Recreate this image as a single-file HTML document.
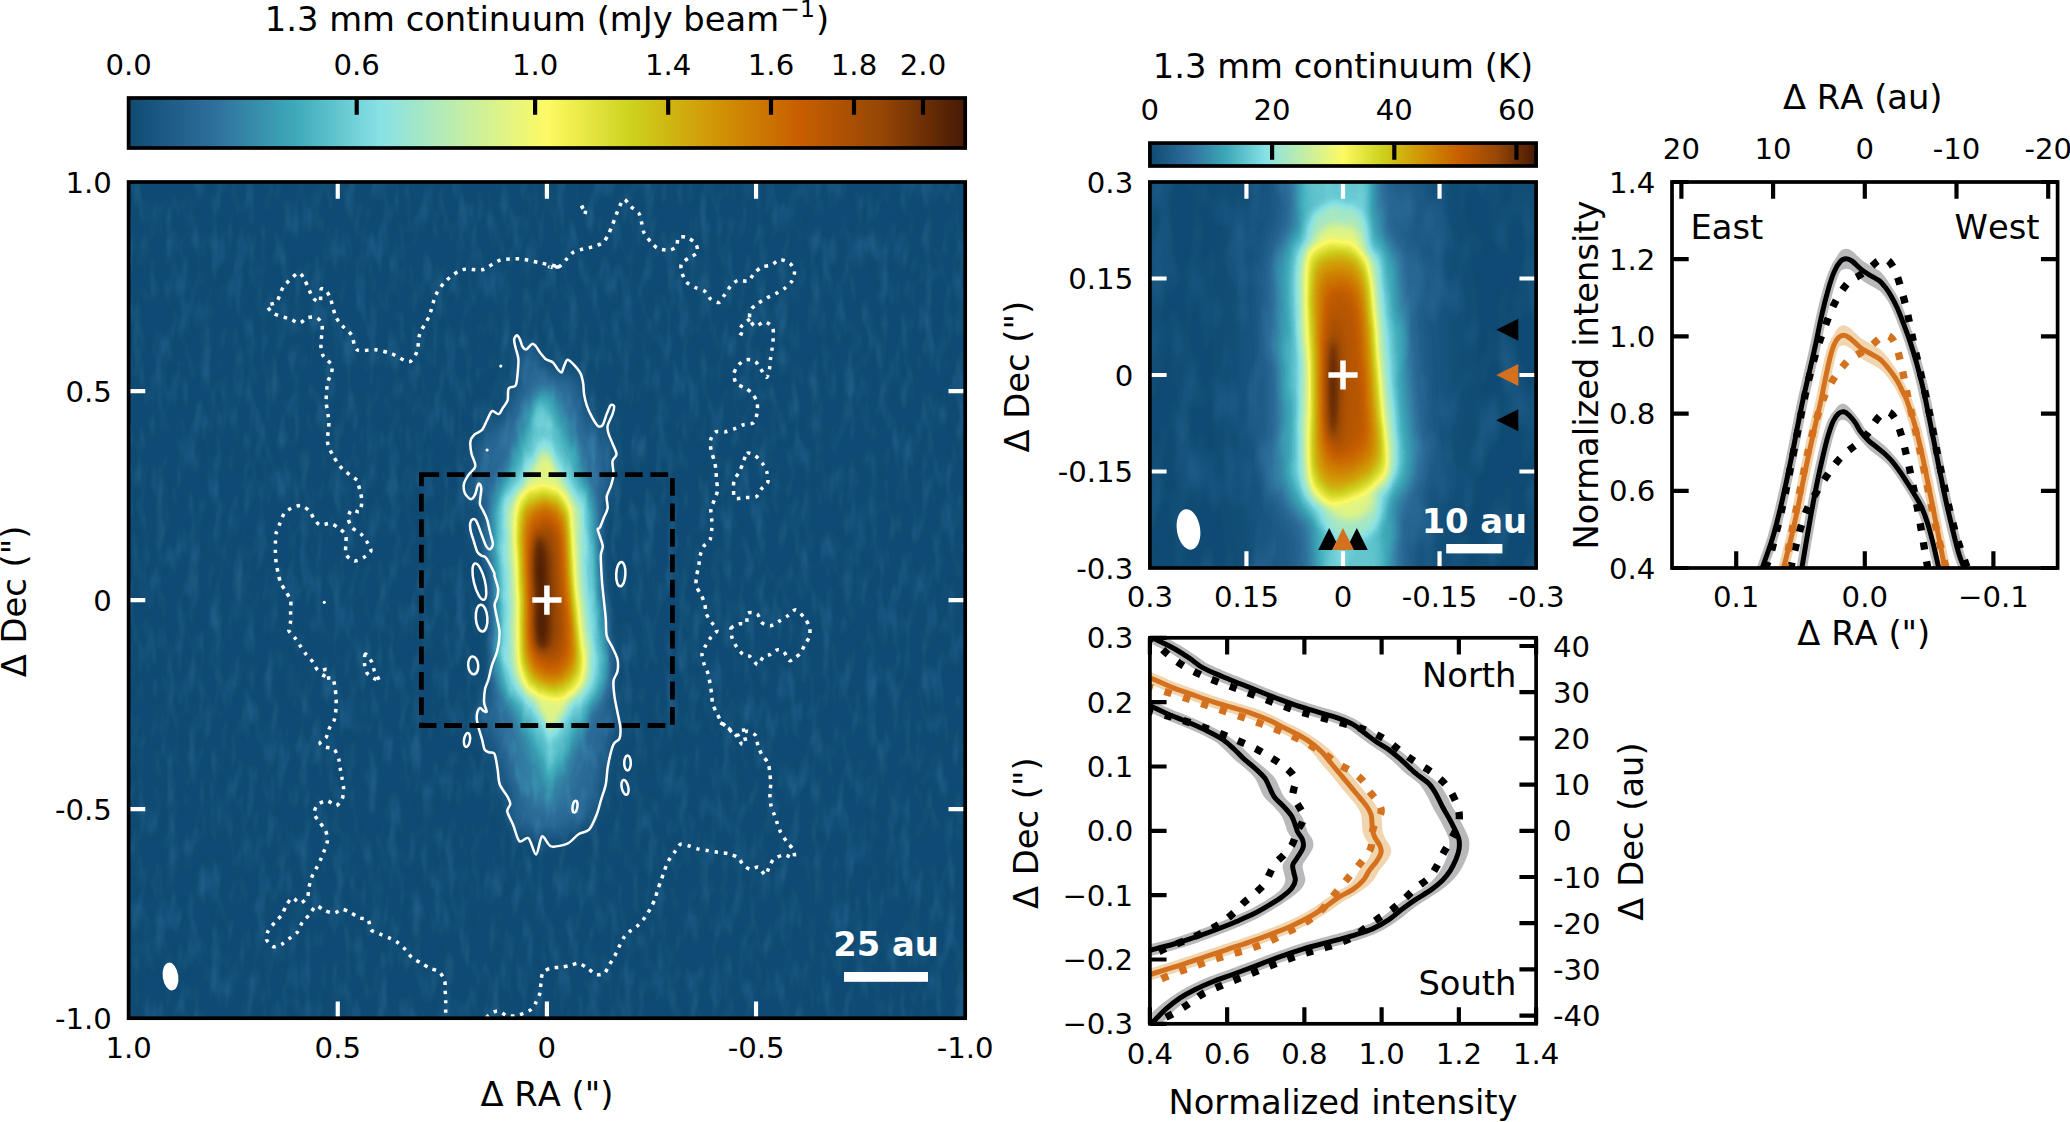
<!DOCTYPE html>
<html lang="en"><head><meta charset="utf-8"><title>1.3 mm continuum figure</title>
<style>html,body{margin:0;padding:0;background:#fff;}svg{display:block;}text{font-family:'DejaVu Sans','Liberation Sans',sans-serif;fill:#000;font-kerning:none;}</style>
</head><body>
<svg width="2070" height="1122" viewBox="0 0 2070 1122">
<defs>
<linearGradient id="cmg" x1="0" y1="0" x2="1" y2="0"><stop offset="0.0%" stop-color="#0f4b73"/><stop offset="10.0%" stop-color="#2e6e9b"/><stop offset="20.0%" stop-color="#3eaab9"/><stop offset="30.0%" stop-color="#87e1e6"/><stop offset="40.0%" stop-color="#c3eea5"/><stop offset="50.0%" stop-color="#fdfa64"/><stop offset="60.0%" stop-color="#cdd21e"/><stop offset="70.0%" stop-color="#d29605"/><stop offset="80.0%" stop-color="#c85f00"/><stop offset="90.0%" stop-color="#964605"/><stop offset="100.0%" stop-color="#461905"/></linearGradient>
<filter id="cmL" filterUnits="userSpaceOnUse" x="128.6" y="182.0" width="836.6" height="836.2" color-interpolation-filters="sRGB">
<feTurbulence type="fractalNoise" baseFrequency="0.09 0.03" numOctaves="2" seed="4" result="n"/>
<feColorMatrix in="n" type="matrix" values="0.12 0 0 0 -0.057  0.12 0 0 0 -0.057  0.12 0 0 0 -0.057  0 0 0 0 1" result="ng"/>
<feComposite in="SourceGraphic" in2="ng" operator="arithmetic" k1="-1" k2="1" k3="1" k4="0" result="s"/>
<feComponentTransfer in="s"><feFuncR type="table" tableValues="0.0588 0.1804 0.2431 0.5294 0.7647 0.9922 0.8039 0.8235 0.7843 0.5882 0.2745"/><feFuncG type="table" tableValues="0.2941 0.4314 0.6667 0.8824 0.9333 0.9804 0.8235 0.5882 0.3725 0.2745 0.0980"/><feFuncB type="table" tableValues="0.4510 0.6078 0.7255 0.9020 0.6471 0.3922 0.1176 0.0196 0.0000 0.0196 0.0196"/><feFuncA type="linear" slope="0" intercept="1"/></feComponentTransfer>
</filter>
<filter id="cmM" filterUnits="userSpaceOnUse" x="1149.9" y="182.0" width="386.2" height="386.0" color-interpolation-filters="sRGB">
<feTurbulence type="fractalNoise" baseFrequency="0.04 0.016" numOctaves="2" seed="9" result="n"/>
<feColorMatrix in="n" type="matrix" values="0.13 0 0 0 -0.06  0.13 0 0 0 -0.06  0.13 0 0 0 -0.06  0 0 0 0 1" result="ng"/>
<feComposite in="SourceGraphic" in2="ng" operator="arithmetic" k1="-1" k2="1" k3="1" k4="0" result="s"/>
<feComponentTransfer in="s"><feFuncR type="table" tableValues="0.0588 0.1804 0.2431 0.5294 0.7647 0.9922 0.8039 0.8235 0.7843 0.5882 0.2745"/><feFuncG type="table" tableValues="0.2941 0.4314 0.6667 0.8824 0.9333 0.9804 0.8235 0.5882 0.3725 0.2745 0.0980"/><feFuncB type="table" tableValues="0.4510 0.6078 0.7255 0.9020 0.6471 0.3922 0.1176 0.0196 0.0000 0.0196 0.0196"/><feFuncA type="linear" slope="0" intercept="1"/></feComponentTransfer>
</filter>
<filter id="b2_5x3_5" x="-150%" y="-150%" width="400%" height="400%" color-interpolation-filters="sRGB"><feGaussianBlur stdDeviation="2.5 3.5"/></filter><filter id="b2_5x4" x="-150%" y="-150%" width="400%" height="400%" color-interpolation-filters="sRGB"><feGaussianBlur stdDeviation="2.5 4"/></filter><filter id="b2_5x5" x="-150%" y="-150%" width="400%" height="400%" color-interpolation-filters="sRGB"><feGaussianBlur stdDeviation="2.5 5"/></filter><filter id="b3x6" x="-150%" y="-150%" width="400%" height="400%" color-interpolation-filters="sRGB"><feGaussianBlur stdDeviation="3 6"/></filter><filter id="b4x8" x="-150%" y="-150%" width="400%" height="400%" color-interpolation-filters="sRGB"><feGaussianBlur stdDeviation="4 8"/></filter><filter id="b4x9" x="-150%" y="-150%" width="400%" height="400%" color-interpolation-filters="sRGB"><feGaussianBlur stdDeviation="4 9"/></filter><filter id="b5x10" x="-150%" y="-150%" width="400%" height="400%" color-interpolation-filters="sRGB"><feGaussianBlur stdDeviation="5 10"/></filter><filter id="b10" x="-150%" y="-150%" width="400%" height="400%" color-interpolation-filters="sRGB"><feGaussianBlur stdDeviation="10"/></filter><filter id="b22" x="-150%" y="-150%" width="400%" height="400%" color-interpolation-filters="sRGB"><feGaussianBlur stdDeviation="22"/></filter><filter id="b3_5" x="-150%" y="-150%" width="400%" height="400%" color-interpolation-filters="sRGB"><feGaussianBlur stdDeviation="3.5"/></filter><filter id="b4" x="-150%" y="-150%" width="400%" height="400%" color-interpolation-filters="sRGB"><feGaussianBlur stdDeviation="4"/></filter><filter id="b5" x="-150%" y="-150%" width="400%" height="400%" color-interpolation-filters="sRGB"><feGaussianBlur stdDeviation="5"/></filter><filter id="b7" x="-150%" y="-150%" width="400%" height="400%" color-interpolation-filters="sRGB"><feGaussianBlur stdDeviation="7"/></filter><filter id="b8" x="-150%" y="-150%" width="400%" height="400%" color-interpolation-filters="sRGB"><feGaussianBlur stdDeviation="8"/></filter>
<clipPath id="clipL"><rect x="128.6" y="182.0" width="836.6" height="836.2"/></clipPath>
<clipPath id="clipM"><rect x="1149.9" y="182.0" width="386.2" height="386.0"/></clipPath>
<clipPath id="clipR"><rect x="1672.0" y="182.0" width="385.6" height="386.0"/></clipPath>
<clipPath id="clipB"><rect x="1149.9" y="637.8" width="386.2" height="386.0"/></clipPath>
</defs>
<rect width="2070" height="1122" fill="#fff"/>
<g clip-path="url(#clipL)"><g filter="url(#cmL)">
<rect x="123.6" y="177.0" width="846.6" height="846.2" fill="#000"/>
<path d="M473.2 482.6 C471.5 485.5 469.6 488.3 469.2 491.2 C468.7 494.1 469.2 497.5 470.3 500.0 C471.5 502.5 474.4 505.9 476.1 506.3 C477.7 506.6 479.2 504.0 480.2 502.0 C481.2 500.0 481.4 496.1 482.0 494.3 C482.6 492.5 483.0 491.0 483.6 491.3 C484.3 491.6 485.6 493.9 485.9 496.2 C486.2 498.4 485.4 502.2 485.3 504.8 C485.2 507.5 484.6 509.5 485.2 511.9 C485.8 514.2 487.7 516.4 488.9 518.9 C490.1 521.4 491.3 523.3 492.5 526.8 C493.7 530.3 495.0 535.9 496.2 539.8 C497.3 543.7 499.0 547.7 499.2 550.2 C499.3 552.8 498.1 554.7 497.1 555.0 C496.0 555.4 494.4 554.2 493.1 552.3 C491.8 550.4 490.5 546.7 489.2 543.7 C487.9 540.7 486.5 537.0 485.3 534.2 C484.1 531.5 483.1 528.6 482.0 527.2 C481.0 525.8 479.9 525.4 479.0 525.8 C478.1 526.2 476.9 527.8 476.6 529.5 C476.3 531.3 476.6 533.5 477.3 536.4 C478.0 539.3 479.6 543.3 480.9 546.7 C482.1 550.1 483.4 554.5 484.8 556.8 C486.2 559.2 488.0 559.9 489.3 560.7 C490.7 561.6 491.6 560.9 492.9 562.1 C494.2 563.4 495.5 565.6 497.1 568.1 C498.7 570.6 501.4 575.1 502.4 577.1 C503.4 579.0 502.1 577.6 502.9 579.8 C503.6 582.0 506.4 587.4 506.9 590.4 C507.5 593.4 506.8 595.5 506.2 597.7 C505.6 599.9 503.6 600.7 503.5 603.6 C503.4 606.6 504.9 611.4 505.5 615.4 C506.0 619.5 507.1 623.0 506.8 627.9 C506.4 632.7 504.8 639.4 503.3 644.5 C501.8 649.6 499.2 653.7 497.5 658.4 C495.9 663.1 494.7 668.8 493.5 672.6 C492.2 676.5 490.9 677.6 490.1 681.3 C489.3 685.0 488.6 691.1 488.7 694.8 C488.8 698.5 491.0 702.1 490.9 703.5 C490.7 704.9 488.9 703.7 487.9 703.1 C486.8 702.6 485.8 700.0 484.8 700.3 C483.8 700.5 482.5 702.7 481.9 704.7 C481.4 706.7 481.1 709.5 481.3 712.4 C481.6 715.2 482.5 718.8 483.3 722.0 C484.0 725.2 485.1 728.4 485.9 731.6 C486.7 734.8 486.8 739.0 487.9 741.1 C488.9 743.1 490.6 743.2 492.2 744.0 C493.8 744.7 496.0 742.6 497.3 745.4 C498.6 748.1 499.3 755.4 500.0 760.4 C500.8 765.5 500.4 770.9 501.9 775.5 C503.4 780.0 507.4 784.3 509.0 787.6 C510.7 790.8 511.9 792.5 511.8 795.0 C511.8 797.5 508.4 799.1 508.9 802.6 C509.4 806.2 512.7 811.4 514.6 816.3 C516.5 821.2 517.9 830.1 520.4 832.3 C522.8 834.4 526.5 827.0 529.2 829.2 C531.8 831.4 534.3 845.8 536.4 845.5 C538.6 845.2 539.8 828.8 542.2 827.4 C544.7 826.1 546.9 836.2 551.0 837.4 C555.2 838.6 562.7 836.4 567.1 834.3 C571.5 832.3 573.9 827.5 577.3 825.3 C580.7 823.0 584.6 824.1 587.5 820.9 C590.3 817.6 592.8 810.8 594.6 805.7 C596.5 800.7 597.4 795.7 598.8 790.7 C600.2 785.7 602.1 781.1 603.0 775.6 C604.0 770.1 603.7 764.2 604.8 757.7 C605.9 751.2 607.8 741.1 609.5 736.6 C611.3 732.1 614.2 733.6 615.2 730.8 C616.3 728.1 616.3 724.5 615.9 720.2 C615.5 715.8 613.8 709.9 612.7 704.8 C611.6 699.6 610.2 694.4 609.4 689.3 C608.6 684.2 607.5 678.1 607.8 674.0 C608.1 669.9 610.7 668.2 611.2 664.8 C611.7 661.3 611.7 657.3 610.7 653.5 C609.7 649.8 607.2 646.0 605.3 642.2 C603.4 638.5 600.4 635.6 599.1 631.1 C597.7 626.6 597.9 620.8 597.2 615.3 C596.4 609.9 595.3 604.1 594.7 598.5 C594.1 592.9 593.4 588.1 593.3 581.9 C593.1 575.7 593.2 566.0 593.7 561.0 C594.2 556.0 596.3 555.8 596.1 551.8 C595.9 547.8 592.6 540.0 592.3 537.2 C592.1 534.3 593.3 536.9 594.3 534.9 C595.3 533.0 597.1 528.5 598.4 525.3 C599.8 522.1 601.9 519.1 602.5 515.6 C603.1 512.1 601.5 507.7 602.1 504.2 C602.7 500.7 604.9 498.1 606.1 494.5 C607.3 490.9 608.8 487.0 609.2 482.8 C609.6 478.6 608.0 472.7 608.6 469.3 C609.1 465.9 612.5 465.3 612.5 462.4 C612.6 459.5 610.1 455.1 608.9 451.8 C607.8 448.4 606.1 445.0 605.4 442.1 C604.7 439.2 603.9 437.6 604.6 434.4 C605.2 431.1 608.4 425.8 609.4 422.6 C610.5 419.3 611.4 416.2 611.1 414.8 C610.8 413.3 608.9 412.5 607.7 413.8 C606.5 415.1 605.2 419.4 603.9 422.6 C602.6 425.9 601.3 431.5 599.9 433.5 C598.5 435.4 596.9 435.8 595.2 434.5 C593.5 433.2 591.4 429.1 589.8 425.8 C588.1 422.6 586.4 418.8 585.2 415.1 C584.0 411.4 583.1 407.3 582.4 403.3 C581.8 399.4 582.2 395.2 581.6 391.6 C581.0 388.0 580.4 384.9 578.8 381.8 C577.3 378.7 574.3 375.2 572.3 373.0 C570.2 370.9 568.1 368.6 566.7 368.8 C565.3 368.9 564.7 372.0 563.8 374.1 C562.8 376.2 562.1 380.8 561.0 381.5 C559.9 382.1 558.6 379.7 557.1 378.0 C555.7 376.3 554.3 372.8 552.4 371.2 C550.6 369.6 547.9 369.8 545.9 368.2 C543.9 366.6 541.8 363.5 540.2 361.4 C538.6 359.3 537.7 356.9 536.5 355.5 C535.2 354.1 534.3 352.4 532.7 352.9 C531.1 353.4 528.6 357.9 527.0 358.4 C525.4 358.8 524.3 357.1 523.2 355.5 C522.2 353.8 521.8 350.4 520.9 348.6 C520.0 346.7 518.8 344.2 517.9 344.2 C516.9 344.2 515.4 346.5 515.2 348.5 C515.0 350.6 515.9 353.2 516.6 356.4 C517.3 359.7 519.1 363.6 519.4 368.1 C519.8 372.7 519.1 379.4 518.6 383.8 C518.2 388.2 518.2 392.3 516.8 394.6 C515.4 396.9 511.4 395.0 510.2 397.5 C508.9 399.9 510.2 406.0 509.3 409.2 C508.4 412.5 506.1 414.7 504.7 417.0 C503.3 419.2 502.7 422.3 501.0 422.8 C499.3 423.3 496.4 418.9 494.5 419.8 C492.6 420.8 491.4 425.5 489.9 428.5 C488.4 431.6 487.4 435.8 485.4 438.2 C483.4 440.6 479.8 441.0 477.9 442.9 C476.1 444.9 474.7 446.6 474.3 449.7 C473.9 452.8 474.7 457.2 475.5 461.3 C476.4 465.4 479.9 470.5 479.6 474.0 C479.2 477.6 474.9 479.7 473.2 482.6Z" fill="#161616" opacity="1.00" filter="url(#b8)"/>
<ellipse cx="547.0" cy="598.0" rx="44.0" ry="212.0" fill="#262626" opacity="1.00" filter="url(#b10)"/>
<g filter="url(#b7)" opacity="1.00">
<path d="M535.4 463.3 C527.1 465.4 514.2 470.9 507.2 478.1 C500.3 485.4 496.0 496.0 493.6 506.8 C491.2 517.6 492.4 527.5 492.6 543.1 C492.9 558.6 494.7 583.5 495.1 600.2 C495.5 616.8 494.7 630.9 495.1 642.9 C495.5 654.9 495.1 662.6 497.4 672.0 C499.6 681.3 503.0 691.5 508.6 698.9 C514.2 706.3 522.9 712.5 531.0 716.4 C539.0 720.3 548.2 723.0 556.9 722.4 C565.7 721.7 575.8 717.9 583.2 712.7 C590.6 707.5 597.7 699.0 601.5 690.9 C605.4 682.7 606.0 674.0 606.3 663.7 C606.6 653.4 604.5 640.4 603.4 629.3 C602.3 618.3 601.0 609.1 599.8 597.3 C598.6 585.6 597.2 571.2 596.3 558.8 C595.5 546.3 595.6 533.1 594.5 522.5 C593.4 512.0 592.9 503.5 589.6 495.4 C586.2 487.3 580.0 478.9 574.5 473.8 C569.1 468.8 563.4 467.1 556.9 465.3 C550.4 463.5 543.7 461.1 535.4 463.3Z" fill="#404040"/>
<path d="M497.0 508.0 L544.0 386.0 L593.0 508.0 L600.0 678.0 L552.0 780.0 L504.0 678.0Z" fill="#404040"/>
</g>
<g filter="url(#b5)" opacity="1.00">
<path d="M538.5 474.9 C532.2 476.5 521.2 481.0 515.7 486.6 C510.2 492.3 507.3 499.4 505.4 508.7 C503.6 518.1 504.3 527.6 504.6 542.8 C504.9 558.0 506.7 583.2 507.1 599.9 C507.5 616.5 506.8 631.0 507.1 642.6 C507.4 654.2 507.3 661.4 509.1 669.5 C511.0 677.7 513.7 685.7 518.2 691.7 C522.7 697.7 530.0 702.5 536.4 705.6 C542.7 708.7 549.6 710.8 556.2 710.4 C562.8 709.9 570.5 707.0 576.2 702.9 C581.9 698.9 587.5 692.5 590.5 686.0 C593.6 679.4 594.2 672.9 594.3 663.7 C594.4 654.5 592.5 641.4 591.4 630.5 C590.4 619.6 589.0 610.3 587.8 598.5 C586.7 586.7 585.3 572.1 584.4 559.6 C583.5 547.1 583.6 533.7 582.6 523.7 C581.5 513.7 581.0 506.4 578.3 499.6 C575.6 492.8 570.6 486.5 566.5 482.7 C562.3 478.9 558.1 478.1 553.4 476.8 C548.7 475.5 544.8 473.2 538.5 474.9Z" fill="#595959"/>
<path d="M507.0 508.0 L544.0 436.0 L583.0 508.0 L590.0 678.0 L552.0 740.0 L514.0 678.0Z" fill="#595959"/>
</g>
<g filter="url(#b3_5)" opacity="1.00">
<path d="M540.1 481.2 C534.9 482.5 525.0 486.4 520.3 491.2 C515.6 496.0 513.4 501.2 511.9 509.8 C510.3 518.4 510.8 527.7 511.1 542.7 C511.4 557.7 513.2 583.1 513.6 599.7 C514.0 616.3 513.3 631.0 513.6 642.4 C513.9 653.8 513.9 660.7 515.5 668.2 C517.1 675.8 519.4 682.5 523.4 687.8 C527.4 693.1 533.9 697.1 539.3 699.8 C544.7 702.5 550.3 704.3 555.8 703.9 C561.3 703.5 567.6 701.1 572.4 697.7 C577.2 694.2 582.0 689.0 584.6 683.3 C587.2 677.7 587.7 672.4 587.8 663.7 C587.9 655.0 586.0 641.9 585.0 631.2 C583.9 620.4 582.6 611.0 581.4 599.2 C580.2 587.3 578.8 572.6 577.9 560.1 C577.0 547.6 577.0 534.0 576.1 524.3 C575.1 514.6 574.5 508.0 572.2 501.8 C569.9 495.7 565.6 490.7 562.1 487.6 C558.7 484.4 555.2 484.1 551.5 483.0 C547.8 481.9 545.3 479.8 540.1 481.2Z" fill="#737373"/>
<path d="M514.0 508.0 L544.0 450.0 L576.0 508.0 L583.0 678.0 L552.0 728.8 L521.0 678.0Z" fill="#737373"/>
</g>
<path d="M541.3 485.5 C536.8 486.7 527.7 490.2 523.5 494.4 C519.3 498.6 517.6 502.5 516.3 510.5 C515.0 518.5 515.3 527.8 515.6 542.6 C515.9 557.5 517.7 583.0 518.1 599.6 C518.5 616.2 517.8 631.0 518.1 642.3 C518.4 653.6 518.4 660.2 519.9 667.3 C521.4 674.4 523.4 680.4 527.0 685.1 C530.6 689.9 536.5 693.4 541.3 695.8 C546.0 698.2 550.8 699.7 555.5 699.4 C560.2 699.1 565.6 697.0 569.8 694.0 C574.0 691.0 578.2 686.5 580.5 681.5 C582.8 676.5 583.3 672.0 583.3 663.7 C583.3 655.4 581.6 642.3 580.5 631.6 C579.4 620.9 578.1 611.5 576.9 599.6 C575.7 587.7 574.3 572.9 573.4 560.4 C572.5 547.9 572.5 534.2 571.6 524.7 C570.7 515.2 570.1 509.0 568.0 503.4 C565.9 497.8 562.1 493.6 559.1 490.9 C556.1 488.2 553.2 488.2 550.2 487.3 C547.2 486.4 545.8 484.3 541.3 485.5Z" fill="#8c8c8c" opacity="1.00" filter="url(#b2_5x3_5)"/>
<path d="M542.2 494.5 C538.3 495.6 530.3 498.9 526.7 502.7 C523.0 506.5 521.5 510.1 520.4 517.4 C519.2 524.8 519.5 533.2 519.8 546.8 C520.0 560.4 521.6 583.8 522.0 599.0 C522.3 614.3 521.7 627.8 522.0 638.2 C522.2 648.5 522.2 654.5 523.5 661.1 C524.8 667.6 526.6 673.0 529.7 677.4 C532.8 681.7 538.0 685.0 542.2 687.2 C546.3 689.3 550.4 690.7 554.5 690.5 C558.7 690.2 563.4 688.2 567.0 685.5 C570.6 682.8 574.3 678.7 576.3 674.1 C578.3 669.4 578.7 665.4 578.7 657.8 C578.7 650.1 577.2 638.1 576.3 628.4 C575.4 618.6 574.2 609.9 573.2 599.0 C572.1 588.2 570.9 574.6 570.1 563.1 C569.4 551.7 569.3 539.1 568.6 530.4 C567.8 521.7 567.2 516.1 565.4 510.9 C563.6 505.8 560.3 501.9 557.7 499.5 C555.1 497.0 552.5 497.0 549.9 496.2 C547.3 495.4 546.0 493.5 542.2 494.5Z" fill="#a6a6a6" opacity="1.00" filter="url(#b2_5x5)"/>
<path d="M543.0 503.6 C539.7 504.6 532.9 507.5 529.8 511.0 C526.7 514.5 525.5 517.7 524.5 524.4 C523.5 531.1 523.7 538.7 524.0 551.1 C524.2 563.4 525.5 584.7 525.8 598.5 C526.1 612.3 525.6 624.6 525.8 634.0 C526.0 643.4 526.1 648.9 527.2 654.8 C528.3 660.7 529.8 665.7 532.4 669.6 C535.1 673.6 539.5 676.5 543.0 678.5 C546.6 680.5 550.0 681.8 553.6 681.5 C557.1 681.3 561.1 679.5 564.2 677.0 C567.3 674.5 570.4 670.8 572.1 666.6 C573.8 662.4 574.2 658.7 574.2 651.8 C574.2 644.9 572.9 634.0 572.1 625.1 C571.3 616.2 570.3 608.4 569.4 598.5 C568.6 588.6 567.5 576.3 566.8 565.9 C566.2 555.5 566.2 544.1 565.5 536.2 C564.8 528.3 564.4 523.2 562.8 518.5 C561.3 513.8 558.4 510.3 556.2 508.1 C554.0 505.8 551.8 505.8 549.6 505.1 C547.4 504.3 546.3 502.6 543.0 503.6Z" fill="#bfbfbf" opacity="1.00" filter="url(#b3x6)"/>
<path d="M544.1 515.6 C541.5 516.5 536.2 519.0 533.8 522.0 C531.4 525.0 530.4 527.8 529.6 533.6 C528.8 539.4 529.0 546.0 529.2 556.7 C529.4 567.4 530.4 585.8 530.6 597.7 C530.9 609.7 530.5 620.4 530.6 628.5 C530.8 636.6 530.8 641.3 531.7 646.5 C532.5 651.6 533.7 655.9 535.8 659.3 C537.9 662.7 541.4 665.3 544.1 667.0 C546.9 668.7 549.6 669.8 552.4 669.6 C555.1 669.4 558.2 667.8 560.7 665.7 C563.1 663.5 565.6 660.3 566.9 656.7 C568.2 653.1 568.5 649.9 568.5 643.9 C568.5 637.9 567.5 628.5 566.9 620.8 C566.3 613.1 565.5 606.3 564.8 597.7 C564.1 589.2 563.3 578.5 562.7 569.5 C562.2 560.6 562.2 550.7 561.7 543.8 C561.2 537.0 560.8 532.6 559.6 528.5 C558.4 524.5 556.2 521.5 554.4 519.5 C552.7 517.6 551.0 517.6 549.3 516.9 C547.6 516.3 546.7 514.8 544.1 515.6Z" fill="#d4d4d4" opacity="1.00" filter="url(#b4x8)"/>
<path d="M545.4 530.7 C543.7 531.4 540.1 533.5 538.5 535.9 C536.9 538.3 536.2 540.5 535.7 545.2 C535.2 549.9 535.3 555.2 535.5 563.8 C535.6 572.4 536.3 587.2 536.4 596.8 C536.6 606.5 536.3 615.0 536.4 621.6 C536.5 628.1 536.5 631.9 537.1 636.1 C537.7 640.2 538.5 643.6 539.9 646.4 C541.3 649.1 543.6 651.2 545.4 652.6 C547.2 653.9 549.1 654.8 550.9 654.7 C552.7 654.5 554.8 653.3 556.4 651.5 C558.1 649.8 559.7 647.2 560.6 644.3 C561.5 641.4 561.7 638.8 561.7 634.0 C561.7 629.1 561.0 621.6 560.6 615.4 C560.2 609.2 559.6 603.7 559.2 596.8 C558.7 589.9 558.2 581.3 557.8 574.1 C557.5 566.9 557.5 558.9 557.1 553.4 C556.8 547.9 556.5 544.3 555.7 541.1 C554.9 537.8 553.4 535.4 552.3 533.8 C551.1 532.3 550.0 532.3 548.9 531.8 C547.7 531.2 547.1 530.0 545.4 530.7Z" fill="#e8e8e8" opacity="0.90" filter="url(#b5x10)"/>
<ellipse cx="541.0" cy="592.0" rx="7.0" ry="60.0" fill="#ffffff" opacity="0.90" filter="url(#b5)" transform="rotate(-2 541.0 592.0)"/>
<ellipse cx="540.5" cy="630.0" rx="6.0" ry="22.0" fill="#ffffff" opacity="0.60" filter="url(#b5)"/>
<ellipse cx="540.0" cy="565.0" rx="5.0" ry="20.0" fill="#ffffff" opacity="0.40" filter="url(#b5)"/>
</g></g>
<g clip-path="url(#clipM)"><g filter="url(#cmM)">
<rect x="1144.9" y="177.0" width="396.2" height="396.0" fill="#000"/>
<ellipse cx="1345.0" cy="375.0" rx="95.0" ry="340.0" fill="#0f0f0f" opacity="1.00" filter="url(#b22)"/>
<g filter="url(#b10)" opacity="1.00">
<path d="M1323.2 209.2 C1314.1 211.6 1299.4 215.0 1291.2 223.2 C1282.9 231.5 1276.8 245.3 1273.6 258.6 C1270.5 271.9 1272.1 287.0 1272.3 303.1 C1272.5 319.2 1274.5 338.1 1275.0 355.2 C1275.6 372.3 1275.7 388.6 1275.7 405.8 C1275.7 423.0 1274.2 443.6 1275.0 458.6 C1275.8 473.6 1275.8 484.4 1280.4 495.7 C1285.0 507.0 1293.1 519.4 1302.7 526.4 C1312.3 533.3 1327.5 536.8 1338.1 537.3 C1348.6 537.9 1357.3 533.2 1366.1 529.7 C1374.9 526.2 1383.1 522.9 1391.0 516.3 C1398.9 509.8 1408.4 500.3 1413.4 490.5 C1418.4 480.7 1420.3 469.3 1421.0 457.5 C1421.7 445.8 1418.7 434.7 1417.4 419.9 C1416.0 405.0 1414.4 385.5 1412.9 368.3 C1411.4 351.1 1409.7 332.4 1408.3 316.6 C1406.8 300.7 1406.2 285.4 1404.0 273.1 C1401.8 260.8 1400.2 252.2 1395.0 242.9 C1389.7 233.6 1380.7 223.1 1372.5 217.4 C1364.4 211.7 1354.1 210.0 1345.9 208.6 C1337.6 207.3 1332.3 206.7 1323.2 209.2Z" fill="#262626"/>
<rect x="1298.0" y="21.0" width="92.0" height="702.0" rx="46.0" fill="#262626" transform="rotate(-2.6 1345.0 372.0)"/>
</g>
<g filter="url(#b8)" opacity="1.00">
<path d="M1326.4 222.8 C1319.1 224.7 1306.9 227.5 1300.4 233.7 C1294.0 240.0 1289.8 249.0 1287.5 260.5 C1285.1 272.0 1286.0 287.2 1286.3 302.9 C1286.6 318.6 1288.4 337.6 1289.0 354.8 C1289.6 371.9 1289.7 388.6 1289.7 405.8 C1289.7 423.0 1288.4 443.9 1289.0 458.1 C1289.7 472.3 1289.9 481.5 1293.6 491.1 C1297.4 500.6 1304.2 510.1 1311.5 515.5 C1318.7 520.9 1329.0 523.2 1337.3 523.4 C1345.5 523.6 1353.3 519.7 1360.8 516.7 C1368.4 513.7 1375.7 510.8 1382.4 505.3 C1389.1 499.9 1396.9 491.9 1401.0 483.9 C1405.1 476.0 1406.6 467.9 1407.0 457.5 C1407.4 447.0 1404.8 435.8 1403.4 421.1 C1402.1 406.5 1400.4 386.8 1398.9 369.5 C1397.4 352.3 1395.8 333.6 1394.3 317.9 C1392.9 302.1 1392.1 286.7 1390.2 275.3 C1388.2 263.9 1386.8 257.0 1382.6 249.3 C1378.3 241.6 1371.1 233.4 1364.6 228.9 C1358.2 224.4 1350.3 223.5 1343.9 222.5 C1337.6 221.5 1333.6 220.9 1326.4 222.8Z" fill="#404040"/>
<rect x="1310.0" y="81.0" width="68.0" height="582.0" rx="34.0" fill="#404040" transform="rotate(-2.6 1345.0 372.0)"/>
</g>
<g filter="url(#b5)" opacity="1.00">
<path d="M1328.7 233.0 C1322.9 234.5 1312.5 236.8 1307.4 241.6 C1302.3 246.4 1299.7 251.7 1297.9 261.9 C1296.1 272.1 1296.5 287.3 1296.8 302.7 C1297.1 318.1 1298.9 337.2 1299.5 354.4 C1300.1 371.6 1300.2 388.6 1300.2 405.8 C1300.2 423.0 1298.9 444.1 1299.5 457.7 C1300.1 471.4 1300.5 479.3 1303.5 487.6 C1306.6 495.8 1312.5 503.1 1318.0 507.3 C1323.6 511.5 1330.2 512.9 1336.7 512.9 C1343.1 512.8 1350.3 509.6 1356.9 507.0 C1363.4 504.4 1370.1 501.7 1375.9 497.1 C1381.7 492.4 1388.3 485.6 1391.7 479.0 C1395.1 472.4 1396.3 466.9 1396.5 457.4 C1396.7 448.0 1394.3 436.6 1393.0 422.1 C1391.6 407.6 1390.0 387.7 1388.5 370.5 C1386.9 353.3 1385.3 334.4 1383.9 318.8 C1382.4 303.2 1381.6 287.7 1379.8 276.9 C1378.0 266.1 1376.8 260.7 1373.2 254.1 C1369.7 247.6 1363.8 241.1 1358.7 237.6 C1353.6 234.0 1347.5 233.6 1342.5 232.9 C1337.5 232.1 1334.6 231.6 1328.7 233.0Z" fill="#595959"/>
<rect x="1314.0" y="204.0" width="60.0" height="336.0" rx="30.0" fill="#595959" transform="rotate(-2.6 1345.0 372.0)"/>
</g>
<g filter="url(#b4)" opacity="1.00">
<path d="M1330.0 238.4 C1324.9 239.6 1315.5 241.7 1311.0 245.7 C1306.6 249.7 1304.8 253.2 1303.3 262.7 C1301.9 272.1 1302.0 287.3 1302.3 302.6 C1302.6 317.8 1304.4 337.0 1305.0 354.2 C1305.6 371.4 1305.7 388.6 1305.7 405.8 C1305.7 423.0 1304.5 444.2 1305.0 457.5 C1305.5 470.9 1306.0 478.2 1308.7 485.7 C1311.5 493.3 1316.9 499.4 1321.5 503.0 C1326.1 506.6 1330.8 507.6 1336.3 507.4 C1341.9 507.2 1348.8 504.3 1354.8 501.9 C1360.8 499.5 1367.1 497.0 1372.5 492.7 C1377.8 488.5 1383.7 482.4 1386.8 476.5 C1389.9 470.6 1390.9 466.4 1391.0 457.4 C1391.1 448.4 1388.8 437.0 1387.5 422.6 C1386.1 408.2 1384.5 388.2 1383.0 370.9 C1381.5 353.7 1379.8 334.9 1378.4 319.3 C1376.9 303.8 1376.0 288.2 1374.4 277.8 C1372.7 267.3 1371.5 262.6 1368.4 256.7 C1365.2 250.7 1360.0 245.2 1355.6 242.1 C1351.1 239.0 1346.0 239.0 1341.7 238.3 C1337.5 237.7 1335.1 237.2 1330.0 238.4Z" fill="#737373"/>
<rect x="1319.0" y="224.0" width="50.0" height="296.0" rx="25.0" fill="#737373" transform="rotate(-2.6 1345.0 372.0)"/>
</g>
<path d="M1330.9 242.3 C1326.3 243.4 1317.6 245.2 1313.7 248.7 C1309.8 252.2 1308.5 254.2 1307.3 263.2 C1306.1 272.2 1306.0 287.4 1306.3 302.5 C1306.6 317.6 1308.4 336.9 1309.0 354.1 C1309.6 371.3 1309.7 388.6 1309.7 405.8 C1309.7 423.0 1308.5 444.3 1309.0 457.4 C1309.5 470.5 1310.0 477.3 1312.5 484.4 C1315.0 491.5 1320.1 496.7 1324.0 499.9 C1327.9 503.1 1331.2 503.7 1336.1 503.4 C1341.0 503.1 1347.6 500.5 1353.3 498.2 C1359.0 495.9 1365.0 493.5 1370.0 489.6 C1375.0 485.7 1380.5 480.0 1383.3 474.6 C1386.1 469.2 1387.0 466.0 1387.0 457.4 C1387.0 448.8 1384.8 437.4 1383.5 423.0 C1382.2 408.6 1380.5 388.5 1379.0 371.3 C1377.5 354.1 1375.8 335.2 1374.4 319.7 C1373.0 304.2 1372.0 288.6 1370.4 278.4 C1368.8 268.2 1367.7 264.0 1364.8 258.5 C1361.9 253.0 1357.2 248.1 1353.3 245.4 C1349.4 242.7 1344.9 242.8 1341.2 242.3 C1337.5 241.8 1335.5 241.2 1330.9 242.3Z" fill="#8c8c8c" opacity="1.00" filter="url(#b2_5x4)"/>
<path d="M1332.8 252.2 C1328.8 253.2 1321.2 254.9 1317.8 258.1 C1314.4 261.3 1313.3 263.2 1312.3 271.5 C1311.2 279.8 1311.1 293.8 1311.4 307.8 C1311.6 321.8 1313.2 339.6 1313.7 355.5 C1314.2 371.4 1314.3 387.3 1314.3 403.2 C1314.3 419.1 1313.3 438.8 1313.7 450.9 C1314.1 463.0 1314.6 469.3 1316.8 475.8 C1318.9 482.4 1323.3 487.2 1326.8 490.1 C1330.2 493.1 1333.0 493.6 1337.3 493.4 C1341.5 493.1 1347.3 490.7 1352.2 488.6 C1357.1 486.4 1362.4 484.3 1366.7 480.6 C1371.1 477.0 1375.8 471.7 1378.3 466.8 C1380.7 461.8 1381.4 458.8 1381.5 450.9 C1381.5 442.9 1379.6 432.4 1378.4 419.1 C1377.3 405.9 1375.8 387.3 1374.5 371.4 C1373.2 355.5 1371.8 338.0 1370.5 323.7 C1369.3 309.4 1368.4 295.0 1367.1 285.5 C1365.7 276.1 1364.7 272.2 1362.2 267.2 C1359.7 262.1 1355.6 257.6 1352.2 255.1 C1348.8 252.6 1344.9 252.7 1341.7 252.2 C1338.5 251.7 1336.7 251.2 1332.8 252.2Z" fill="#a6a6a6" opacity="1.00" filter="url(#b3x6)"/>
<path d="M1334.6 266.1 C1331.2 266.9 1324.8 268.4 1321.9 271.3 C1319.0 274.1 1318.1 275.8 1317.2 283.1 C1316.3 290.5 1316.3 302.9 1316.5 315.2 C1316.7 327.6 1318.1 343.3 1318.5 357.4 C1318.9 371.4 1319.0 385.5 1319.0 399.6 C1319.0 413.7 1318.1 431.1 1318.5 441.8 C1318.8 452.5 1319.2 458.0 1321.1 463.8 C1322.9 469.6 1326.6 473.9 1329.5 476.5 C1332.4 479.1 1334.8 479.6 1338.4 479.3 C1342.0 479.1 1347.0 477.0 1351.1 475.1 C1355.3 473.2 1359.7 471.3 1363.4 468.1 C1367.1 464.8 1371.1 460.2 1373.2 455.8 C1375.3 451.4 1375.9 448.8 1375.9 441.8 C1376.0 434.7 1374.4 425.4 1373.4 413.7 C1372.4 401.9 1371.2 385.5 1370.1 371.4 C1368.9 357.4 1367.7 341.9 1366.7 329.3 C1365.6 316.6 1364.9 303.9 1363.7 295.5 C1362.5 287.2 1361.7 283.8 1359.6 279.3 C1357.5 274.8 1354.0 270.8 1351.1 268.6 C1348.2 266.4 1345.0 266.5 1342.2 266.1 C1339.4 265.6 1338.0 265.2 1334.6 266.1Z" fill="#bfbfbf" opacity="1.00" filter="url(#b4x9)"/>
<path d="M1337.6 286.9 C1335.2 287.6 1330.6 288.8 1328.5 291.1 C1326.5 293.3 1325.8 294.7 1325.2 300.6 C1324.5 306.5 1324.5 316.4 1324.6 326.4 C1324.8 336.3 1325.8 348.9 1326.1 360.2 C1326.4 371.6 1326.4 382.9 1326.4 394.2 C1326.4 405.5 1325.8 419.5 1326.1 428.1 C1326.3 436.7 1326.6 441.1 1327.9 445.8 C1329.2 450.4 1331.9 453.9 1333.9 456.0 C1336.0 458.0 1337.7 458.4 1340.3 458.3 C1342.9 458.1 1346.4 456.4 1349.4 454.8 C1352.3 453.3 1355.5 451.8 1358.2 449.2 C1360.8 446.6 1363.7 442.9 1365.2 439.4 C1366.6 435.8 1367.1 433.7 1367.1 428.1 C1367.1 422.4 1366.0 414.9 1365.3 405.5 C1364.6 396.1 1363.7 382.8 1362.9 371.5 C1362.1 360.2 1361.2 347.8 1360.5 337.7 C1359.7 327.5 1359.2 317.2 1358.4 310.6 C1357.5 303.9 1356.9 301.1 1355.4 297.5 C1353.9 293.9 1351.4 290.7 1349.4 288.9 C1347.3 287.1 1345.0 287.2 1343.0 286.9 C1341.0 286.5 1340.0 286.2 1337.6 286.9Z" fill="#d4d4d4" opacity="1.00" filter="url(#b5x10)"/>
<ellipse cx="1335.0" cy="385.0" rx="10.0" ry="70.0" fill="#e6e6e6" opacity="0.70" filter="url(#b7)"/>
<ellipse cx="1333.0" cy="388.0" rx="4.5" ry="50.0" fill="#ffffff" opacity="0.95" filter="url(#b4)"/>
</g></g>
<g clip-path="url(#clipL)">
<path d="M357.0 480.0 C355.0 478.5 345.5 472.0 342.2 468.8 C339.0 465.5 334.8 459.0 332.9 455.4 C330.9 451.8 328.1 446.5 327.5 442.0 C327.0 437.6 329.1 427.3 328.9 422.0 C328.7 416.6 326.4 407.1 326.2 401.9 C326.0 396.8 326.8 387.1 327.5 383.2 C328.3 379.3 331.0 375.0 331.6 372.5 C332.1 370.0 332.6 366.6 331.6 364.5 C330.5 362.4 325.0 359.0 323.5 356.5 C322.1 354.0 321.0 349.9 320.9 345.8 C320.7 341.7 322.7 329.5 322.2 325.7 C321.7 322.0 318.8 318.8 316.8 317.7 C314.9 316.6 309.8 317.0 307.5 317.7 C305.2 318.4 301.8 322.9 299.5 323.0 C297.1 323.2 293.5 320.3 290.1 319.0 C286.7 317.8 277.1 315.5 274.1 313.7 C271.0 311.9 267.0 307.3 267.4 305.7 C267.7 304.1 274.6 304.2 276.7 301.7 C278.9 299.2 280.6 290.8 283.4 287.0 C286.3 283.1 295.3 273.9 298.1 273.0 C301.0 272.2 302.9 277.0 304.8 280.3 C306.8 283.5 310.8 294.8 312.8 297.6 C314.9 300.5 319.0 302.7 320.1 301.7 C321.1 300.6 320.2 291.2 320.9 289.6 C321.5 288.0 323.6 288.6 324.9 289.6 C326.1 290.7 328.8 294.1 330.2 297.6 C331.6 301.2 334.0 312.6 335.6 316.4 C337.2 320.1 340.1 323.2 342.2 325.7 C344.4 328.2 349.6 331.9 351.6 335.1 C353.6 338.3 353.7 347.8 357.0 349.8 C360.2 351.7 371.0 349.3 375.7 349.8 C380.3 350.3 387.3 352.2 391.7 353.8 C396.2 355.4 405.7 362.2 409.1 361.8 C412.5 361.5 415.7 354.9 417.1 351.1 C418.5 347.4 418.2 338.4 419.8 333.7 C421.4 329.1 427.0 321.5 429.1 316.4 C431.3 311.2 433.5 299.8 435.8 295.0 C438.1 290.2 443.0 283.7 446.5 280.3 C450.1 276.9 457.8 271.0 462.6 269.6 C467.4 268.1 477.6 270.8 482.6 269.6 C487.6 268.3 495.0 261.6 500.0 260.2 C505.0 258.8 514.7 258.5 520.1 258.9 C525.4 259.2 534.8 261.8 540.1 262.9 C545.4 264.0 558.7 266.4 559.9 266.9 C561.1 267.4 549.5 266.9 549.4 266.9 C549.2 266.9 556.4 268.0 558.7 266.9 C561.0 265.8 564.8 260.8 566.7 258.9 C568.7 256.9 571.3 253.5 573.4 252.2 C575.6 250.9 580.3 249.7 582.8 249.0 C585.3 248.3 589.5 247.7 592.1 246.8 C594.8 246.0 600.7 244.4 602.8 242.8 C605.0 241.2 606.9 237.1 608.2 234.8 C609.4 232.5 611.1 228.1 612.2 225.5 C613.3 222.8 615.2 217.3 616.2 214.8 C617.2 212.2 618.6 208.3 619.7 206.2 C620.7 204.1 622.7 199.2 624.2 199.3 C625.7 199.3 628.9 204.8 630.9 206.7 C632.9 208.6 637.5 211.3 638.9 213.4 C640.4 215.6 640.9 220.1 641.6 222.8 C642.3 225.5 643.0 230.9 644.3 233.5 C645.5 236.0 649.2 240.1 651.0 242.0 C652.7 244.0 655.3 247.1 657.6 248.2 C660.0 249.3 665.8 250.2 668.3 250.1 C670.8 249.9 675.0 248.5 676.4 246.8 C677.7 245.2 677.1 238.7 678.5 237.5 C679.9 236.2 684.8 236.7 687.1 237.5 C689.3 238.3 694.3 241.6 695.6 243.6 C697.0 245.7 698.2 250.8 697.2 252.7 C696.3 254.7 690.5 256.5 688.4 258.1 C686.3 259.6 682.0 262.2 681.2 264.2 C680.4 266.3 681.5 271.2 682.2 273.6 C683.0 276.0 684.8 280.3 686.5 282.1 C688.2 284.0 692.7 286.3 695.1 287.5 C697.5 288.7 702.4 289.4 704.4 291.0 C706.5 292.5 708.6 297.5 710.6 299.0 C712.5 300.5 717.3 303.0 719.1 302.5 C721.0 301.9 723.0 297.1 724.5 295.0 C726.0 292.8 728.6 288.4 730.4 286.4 C732.2 284.5 735.5 281.0 737.9 280.3 C740.2 279.6 745.8 282.0 748.0 281.1 C750.2 280.1 752.6 274.9 754.4 273.0 C756.3 271.2 759.7 268.0 761.9 266.9 C764.2 265.8 768.9 266.0 771.3 265.0 C773.7 264.1 777.6 259.9 780.1 259.7 C782.6 259.5 788.1 261.9 790.0 263.4 C791.9 265.0 794.3 269.1 794.5 271.4 C794.8 273.8 793.2 278.8 791.9 281.1 C790.6 283.3 786.8 286.6 784.7 288.3 C782.5 290.0 778.1 292.4 775.8 293.6 C773.5 294.9 769.6 296.4 767.3 297.6 C765.0 298.9 760.9 301.4 758.7 303.0 C756.5 304.6 751.9 307.5 750.7 309.7 C749.5 311.8 749.3 316.8 749.9 319.0 C750.5 321.3 753.3 326.2 755.2 326.5 C757.2 326.9 762.3 321.6 764.6 321.7 C766.9 321.9 771.5 325.4 772.6 327.6 C773.8 329.8 773.2 335.5 773.2 338.3 C773.1 341.1 772.4 345.7 772.1 348.4 C771.7 351.2 770.8 356.4 770.5 359.1 C770.1 361.9 769.9 366.9 769.4 369.3 C768.9 371.7 767.9 377.4 766.7 377.3 C765.6 377.3 762.1 370.9 760.6 368.8 C759.1 366.6 757.1 362.5 755.2 361.3 C753.4 360.1 748.7 359.2 746.4 359.7 C744.2 360.2 740.1 363.1 738.4 365.0 C736.7 366.9 734.1 371.4 733.9 373.9 C733.6 376.3 735.0 381.9 736.5 383.7 C738.1 385.6 743.2 386.7 745.3 388.0 C747.5 389.4 751.0 392.0 752.6 393.9 C754.1 395.8 756.5 399.9 757.1 402.5 C757.7 405.0 757.6 410.4 757.1 413.2 C756.6 415.9 755.2 421.2 753.4 422.8 C751.6 424.3 746.2 423.9 743.7 424.7 C741.2 425.4 737.1 427.7 734.7 428.7 C732.2 429.6 727.5 431.4 725.0 431.9 C722.5 432.3 717.9 430.8 715.9 431.9 C714.0 432.9 711.2 437.4 710.6 439.9 C709.9 442.4 710.6 447.8 711.1 450.6 C711.6 453.4 713.7 458.1 714.3 460.7 C715.0 463.4 715.7 467.5 715.9 470.1 C716.2 472.7 716.3 477.3 716.5 480.0 C716.7 482.7 717.8 487.6 717.5 490.3 C717.3 493.0 715.2 497.7 714.3 500.2 C713.4 502.7 711.2 506.5 710.9 509.0 C710.5 511.5 711.6 516.1 711.7 518.9 C711.8 521.6 711.9 526.8 711.7 529.6 C711.4 532.3 711.1 537.2 710.1 539.5 C709.0 541.7 705.0 544.3 703.6 546.4 C702.3 548.6 700.8 553.0 700.2 555.5 C699.5 558.0 699.3 562.4 698.8 565.1 C698.4 567.8 697.0 573.1 696.7 575.8 C696.3 578.6 695.6 583.2 696.1 585.7 C696.7 588.2 699.8 592.2 701.0 594.5 C702.1 596.9 704.0 601.1 704.7 603.6 C705.4 606.2 705.4 611.3 706.3 613.8 C707.2 616.3 710.2 620.1 711.7 622.4 C713.1 624.6 717.1 628.4 717.0 630.4 C716.9 632.4 712.4 635.3 710.9 637.3 C709.3 639.4 706.7 643.6 705.5 645.9 C704.3 648.2 702.2 651.9 702.0 654.4 C701.9 656.9 703.4 662.0 704.2 664.6 C705.0 667.2 707.4 671.4 708.2 674.0 C709.0 676.5 709.6 681.2 710.1 683.9 C710.5 686.5 711.3 691.3 711.7 694.0 C712.0 696.7 712.0 701.6 712.7 704.2 C713.4 706.7 715.8 710.9 717.0 713.3 C718.2 715.7 720.0 720.0 721.6 722.1 C723.1 724.2 726.8 727.0 728.8 728.8 C730.7 730.6 733.8 735.1 736.3 735.5 C738.7 735.8 744.6 731.2 747.2 731.2 C749.8 731.2 754.3 733.6 755.7 735.5 C757.1 737.4 757.0 742.8 757.9 745.4 C758.7 748.0 760.5 752.4 761.9 754.8 C763.2 757.1 767.0 760.3 768.0 762.8 C769.1 765.3 769.5 770.6 769.9 773.5 C770.2 776.3 770.7 781.5 770.7 784.2 C770.7 786.8 769.9 790.9 769.9 793.5 C769.9 796.2 770.2 801.6 770.7 804.2 C771.2 806.9 773.0 811.1 773.9 813.6 C774.8 816.1 776.2 820.4 777.1 822.9 C778.0 825.4 779.3 829.8 780.6 832.3 C781.9 834.8 785.1 839.3 786.7 841.7 C788.4 844.0 792.2 847.5 793.2 849.7 C794.1 851.8 795.2 857.0 794.0 857.7 C792.7 858.4 786.7 854.8 784.1 855.0 C781.4 855.2 775.9 857.4 773.9 859.0 C771.9 860.6 770.2 864.9 769.1 867.1 C768.0 869.2 766.8 875.1 765.3 875.1 C763.9 875.1 760.4 867.8 758.4 867.1 C756.4 866.3 752.3 869.4 750.4 869.2 C748.4 869.0 745.6 867.3 744.0 865.7 C742.3 864.2 739.9 859.3 737.8 857.7 C735.7 856.1 731.1 854.4 728.4 853.7 C725.8 853.0 720.5 852.8 717.8 852.4 C715.0 851.9 710.3 850.9 707.6 850.5 C704.9 850.0 700.3 849.5 697.7 848.9 C695.1 848.2 690.7 846.3 688.3 845.7 C686.0 845.1 682.2 843.4 680.3 844.3 C678.5 845.2 676.0 850.1 674.4 852.4 C672.8 854.6 669.6 858.7 668.3 861.2 C666.9 863.7 665.2 868.5 664.3 871.1 C663.3 873.6 662.0 877.9 661.1 880.4 C660.2 882.9 658.4 887.3 657.6 889.8 C656.8 892.3 655.9 896.6 654.9 899.1 C654.0 901.6 651.7 906.1 650.4 908.5 C649.1 910.9 646.7 915.1 645.0 917.3 C643.4 919.6 640.1 923.5 638.1 925.3 C636.1 927.2 632.0 929.6 630.1 931.2 C628.1 932.9 625.1 935.8 623.6 937.9 C622.1 940.1 620.0 944.9 618.8 947.3 C617.6 949.7 616.1 953.5 614.8 955.8 C613.6 958.1 610.9 962.3 609.5 964.7 C608.0 967.0 605.9 972.2 604.1 973.5 C602.3 974.8 598.2 975.2 596.1 974.5 C594.0 973.9 590.4 970.2 588.1 968.7 C585.8 967.2 581.1 963.7 578.7 963.3 C576.3 962.9 572.7 964.9 570.2 965.5 C567.7 966.0 562.6 967.0 560.0 967.3 C557.4 967.7 553.1 967.4 550.8 968.1 C548.5 968.8 544.1 970.6 542.8 972.7 C541.5 974.7 541.3 980.7 540.9 983.4 C540.6 986.0 540.7 990.2 540.1 992.7 C539.5 995.2 537.4 999.8 536.1 1002.1 C534.8 1004.4 532.7 1008.3 530.2 1010.1 C527.7 1011.9 520.5 1014.7 517.4 1015.5 C514.2 1016.2 509.4 1016.1 506.7 1015.5 C504.0 1014.8 499.8 1010.9 497.3 1010.9 C494.9 1010.9 490.5 1014.0 488.5 1015.5 C486.5 1017.0 483.4 1021.2 482.6 1022.1" fill="none" stroke="#fff" stroke-width="3.5" stroke-dasharray="3.50 5.77"/>
<path d="M445.7 1022.1 C445.7 1020.7 445.7 1014.3 445.7 1011.4 C445.7 1008.6 445.8 1003.5 445.7 1000.7 C445.7 998.0 445.3 993.3 445.2 990.6 C445.0 987.9 445.4 983.2 444.7 980.7 C443.9 978.2 441.3 973.5 439.3 971.9 C437.3 970.2 432.2 969.3 429.7 968.1 C427.2 966.9 423.0 964.2 420.6 962.8 C418.2 961.4 413.8 959.2 411.8 957.4 C409.7 955.7 407.0 951.4 405.1 949.4 C403.2 947.4 399.7 944.0 397.6 942.5 C395.5 940.9 391.4 939.1 389.0 937.9 C386.6 936.8 382.1 935.0 379.7 933.9 C377.3 932.8 372.4 931.7 370.9 929.9 C369.3 928.0 369.7 921.6 368.2 920.0 C366.7 918.4 361.9 918.8 359.6 917.9 C357.3 916.9 353.4 914.2 351.1 913.0 C348.8 911.9 344.5 909.3 342.2 909.3 C340.0 909.3 336.6 912.9 334.2 913.0 C331.8 913.2 326.7 911.3 324.3 910.4 C321.9 909.4 318.3 905.3 316.3 905.8 C314.3 906.4 311.2 912.4 309.4 914.7 C307.5 916.9 303.7 920.4 302.1 922.7 C300.6 925.0 299.2 929.7 297.6 931.8 C296.0 933.8 292.2 936.3 290.1 937.9 C288.0 939.6 284.3 942.9 282.1 944.1 C279.9 945.2 275.6 947.3 273.5 946.7 C271.5 946.2 267.3 941.9 266.6 939.8 C265.9 937.6 267.1 933.0 268.2 930.7 C269.3 928.4 272.8 924.7 274.6 922.7 C276.4 920.6 280.0 917.4 281.6 915.2 C283.1 912.9 284.7 908.1 286.1 905.8 C287.5 903.5 290.4 898.2 292.2 897.8 C294.1 897.5 298.2 903.3 300.3 903.2 C302.3 903.0 306.3 899.0 307.5 897.0 C308.6 895.0 308.3 890.5 308.8 887.9 C309.4 885.3 310.5 880.4 311.5 877.8 C312.5 875.2 315.1 870.9 316.3 868.4 C317.6 865.9 319.8 861.4 320.9 859.0 C321.9 856.6 323.4 853.0 324.3 850.5 C325.2 848.0 327.4 843.0 327.5 840.3 C327.7 837.6 326.5 832.6 325.4 830.2 C324.3 827.7 321.0 824.3 319.5 822.1 C318.0 819.9 314.5 815.9 314.2 813.6 C313.9 811.3 315.7 806.7 317.4 805.0 C319.1 803.3 324.5 800.7 327.0 800.7 C329.5 800.8 334.1 805.8 336.1 805.6 C338.1 805.3 341.2 801.1 342.2 798.9 C343.2 796.7 343.6 791.7 343.6 789.0 C343.6 786.3 342.7 781.4 342.2 778.8 C341.8 776.2 340.8 772.0 340.4 769.5 C339.9 766.9 339.6 762.2 338.8 759.6 C338.0 756.9 336.1 751.1 334.2 749.4 C332.3 747.7 326.2 747.6 324.3 746.7 C322.4 745.8 319.8 744.0 320.1 742.7 C320.3 741.5 324.9 739.4 326.2 737.4 C327.5 735.3 328.6 729.8 329.7 727.5 C330.7 725.2 333.4 722.6 334.2 720.0 C335.1 717.4 335.8 710.8 336.1 707.9 C336.3 705.0 336.2 700.7 336.1 698.0 C336.0 695.4 335.5 690.8 335.0 688.1 C334.5 685.5 334.0 679.3 332.4 678.0 C330.7 676.7 323.4 679.6 322.7 678.5 C322.0 677.4 327.6 670.5 327.0 669.4 C326.4 668.3 320.1 671.5 318.2 670.5 C316.3 669.5 314.4 664.1 312.8 661.9 C311.2 659.8 307.8 656.6 306.1 654.4 C304.5 652.3 301.8 648.1 300.3 645.9 C298.8 643.7 296.5 639.9 294.9 637.9 C293.4 635.8 289.3 632.6 288.8 630.4 C288.2 628.2 290.4 623.9 290.6 621.3 C290.9 618.7 290.6 613.9 290.6 611.1 C290.6 608.3 291.2 603.0 290.6 600.4 C290.0 597.9 287.4 594.2 286.1 591.9 C284.8 589.6 281.8 585.5 280.7 583.0 C279.7 580.6 278.7 575.8 278.1 573.2 C277.5 570.5 276.6 565.7 276.2 563.0 C275.8 560.3 275.5 555.5 275.4 552.8 C275.3 550.2 275.3 545.6 275.4 542.9 C275.5 540.3 275.6 535.7 276.2 533.0 C276.8 530.4 278.9 526.0 279.9 523.4 C281.0 520.8 282.7 515.6 284.2 513.5 C285.8 511.5 289.2 509.3 291.4 508.2 C293.7 507.1 298.4 505.2 300.8 505.5 C303.2 505.9 307.6 509.1 309.4 510.9 C311.1 512.6 312.7 517.0 314.2 518.9 C315.6 520.8 317.9 524.4 320.1 525.0 C322.2 525.6 327.8 523.1 330.2 523.4 C332.6 523.8 336.2 526.2 338.2 527.7 C340.3 529.2 344.7 532.6 345.7 534.9 C346.7 537.2 345.7 542.1 345.7 544.8 C345.8 547.5 345.1 552.8 346.3 555.0 C347.4 557.1 352.0 560.5 354.3 560.9 C356.6 561.2 361.4 559.0 363.6 557.6 C365.8 556.3 370.4 553.0 370.9 551.0 C371.3 548.9 368.4 544.4 367.1 542.1 C365.8 539.9 363.0 536.0 361.0 534.1 C359.0 532.2 353.8 529.7 352.1 527.7 C350.5 525.7 348.5 521.2 348.4 518.9 C348.3 516.5 349.6 511.0 351.1 510.1 C352.6 509.1 358.2 512.9 359.6 511.7 C361.1 510.4 361.7 503.7 361.8 501.0 C361.8 498.2 360.8 493.6 360.2 490.8 C359.5 488.0 357.4 481.5 357.0 480.1" fill="none" stroke="#fff" stroke-width="3.5" stroke-dasharray="3.50 5.77"/>
<path d="M580.6 208.1 C581.2 207.8 584.3 205.7 584.9 206.2 C585.6 206.7 585.6 210.7 585.5 212.1 C585.3 213.5 584.3 216.3 584.1 216.9" fill="none" stroke="#fff" stroke-width="3.5" stroke-dasharray="3.50 5.77"/>
<path d="M749.9 319.0 C748.8 319.9 743.3 323.9 741.9 325.7 C740.4 327.5 738.8 331.2 739.2 332.4 C739.6 333.7 743.8 334.7 744.5 335.1" fill="none" stroke="#fff" stroke-width="3.5" stroke-dasharray="3.50 5.77"/>
<path d="M720.4 722.7 C721.6 723.5 726.8 726.8 729.0 728.6 C731.1 730.3 734.8 734.0 736.5 736.0 C738.2 738.1 740.6 743.2 741.8 744.1 C743.1 745.0 745.5 744.1 745.8 742.7 C746.1 741.4 744.3 736.4 744.0 733.9 C743.6 731.4 743.3 725.3 743.2 724.0" fill="none" stroke="#fff" stroke-width="3.5" stroke-dasharray="3.50 5.77"/>
<path d="M747.0 453.4 C748.6 452.3 752.9 454.2 755.0 455.5 C757.0 456.9 760.9 461.2 762.5 463.5 C764.1 465.8 766.3 470.1 767.0 472.6 C767.7 475.1 768.5 480.1 767.8 482.2 C767.1 484.4 763.2 486.7 761.7 488.7 C760.1 490.6 758.4 495.5 756.3 496.7 C754.2 497.9 748.5 497.3 745.6 497.5 C742.8 497.7 736.5 499.4 734.9 498.3 C733.3 497.2 733.7 491.9 733.6 489.5 C733.5 487.0 733.4 482.4 734.1 480.1 C734.8 477.9 737.8 474.8 738.9 472.6 C740.1 470.4 741.9 466.1 742.9 463.5 C744.0 461.0 745.3 454.4 747.0 453.4Z" fill="none" stroke="#fff" stroke-width="3.5" stroke-dasharray="3.50 5.77"/>
<path d="M730.9 628.5 C731.7 626.6 736.3 624.7 738.4 624.0 C740.5 623.2 745.2 624.6 746.4 623.2 C747.6 621.7 746.1 614.5 747.5 613.3 C748.9 612.0 755.2 612.6 757.1 613.8 C759.0 615.0 759.9 620.7 761.7 622.4 C763.4 624.0 768.2 626.0 770.5 625.8 C772.8 625.7 776.8 622.6 779.0 621.3 C781.3 620.0 785.4 617.5 787.6 615.9 C789.8 614.4 793.5 609.6 795.6 609.8 C797.8 609.9 801.9 614.9 803.6 617.0 C805.4 619.1 808.2 623.3 809.0 625.8 C809.8 628.3 810.4 633.1 809.8 635.7 C809.2 638.3 805.7 643.0 804.4 645.3 C803.2 647.7 801.7 651.7 800.4 653.4 C799.1 655.0 796.0 657.0 794.5 657.9 C793.0 658.9 790.6 661.4 789.2 660.6 C787.8 659.8 785.5 653.2 783.9 651.8 C782.2 650.3 778.7 649.5 776.9 649.9 C775.1 650.2 772.3 653.5 770.5 654.4 C768.7 655.3 765.2 655.2 763.5 656.6 C761.8 657.9 759.4 664.6 757.6 664.6 C755.9 664.6 752.1 657.9 750.2 656.6 C748.2 655.2 744.7 655.7 742.9 654.4 C741.2 653.2 738.2 649.4 736.8 647.2 C735.4 645.1 733.0 640.9 732.2 638.4 C731.5 635.9 730.1 630.4 730.9 628.5Z" fill="none" stroke="#fff" stroke-width="3.5" stroke-dasharray="3.50 5.77"/>
<path d="M365.5 653.9 C364.5 654.1 364.2 660.7 364.4 663.3 C364.7 665.8 365.6 671.0 367.1 673.2 C368.6 675.3 374.0 678.2 375.7 679.3 C377.3 680.4 379.9 682.4 379.7 681.2 C379.5 680.0 375.4 673.0 374.3 670.5 C373.3 667.9 372.8 664.1 371.7 661.9 C370.5 659.7 366.5 653.7 365.5 653.9Z" fill="none" stroke="#fff" stroke-width="3.5" stroke-dasharray="3.50 5.77"/>
<path d="M468.4 475.0 C466.7 477.7 464.4 481.2 463.9 483.9 C463.4 486.6 463.8 490.6 464.8 492.9 C465.8 495.2 469.1 498.8 470.6 499.1 C472.1 499.4 474.1 496.5 475.1 494.6 C476.1 492.7 476.7 488.3 477.3 486.6 C477.9 484.9 478.5 483.2 479.1 483.5 C479.7 483.8 481.1 486.3 481.3 488.4 C481.5 490.5 480.6 494.9 480.4 497.3 C480.2 499.7 479.5 502.4 480.0 504.5 C480.5 506.6 482.5 509.3 483.6 511.6 C484.7 513.9 486.1 516.4 487.1 519.6 C488.1 522.8 489.4 529.4 490.3 533.0 C491.2 536.6 492.9 541.4 492.9 543.8 C492.9 546.2 491.3 548.7 490.3 549.1 C489.3 549.5 487.4 548.1 486.3 546.4 C485.2 544.7 483.8 540.3 482.7 537.5 C481.6 534.7 480.1 530.2 479.1 527.7 C478.1 525.2 476.9 521.8 476.0 520.5 C475.1 519.2 473.8 518.8 472.9 519.2 C472.0 519.6 470.5 521.5 470.2 523.2 C469.9 524.9 470.1 527.7 470.6 530.4 C471.1 533.1 472.8 537.9 473.8 541.1 C474.8 544.3 476.1 549.6 477.3 551.8 C478.5 554.0 480.6 555.0 481.8 555.8 C483.0 556.6 484.3 556.0 485.4 557.1 C486.5 558.2 488.1 561.0 489.4 563.4 C490.7 565.8 493.5 571.3 494.3 573.2 C495.1 575.1 494.0 574.0 494.6 576.3 C495.2 578.6 497.7 585.5 498.1 588.7 C498.5 591.9 497.7 595.2 497.2 597.6 C496.7 600.0 494.6 601.6 494.6 604.8 C494.6 608.0 496.4 614.7 497.2 619.0 C497.9 623.3 499.6 628.5 499.6 633.3 C499.6 638.1 498.4 646.3 497.2 651.1 C496.0 655.9 493.2 661.1 491.9 665.4 C490.6 669.7 489.3 676.5 488.3 680.0 C487.3 683.5 485.7 685.4 485.1 688.8 C484.5 692.2 483.9 699.1 484.1 702.5 C484.3 705.9 486.8 710.2 486.7 711.5 C486.6 712.8 484.5 711.5 483.5 711.0 C482.5 710.5 481.1 707.8 480.2 708.0 C479.3 708.2 477.8 710.6 477.3 712.4 C476.8 714.2 476.6 717.6 476.9 720.2 C477.2 722.8 478.4 727.1 479.2 730.0 C480.0 732.9 481.4 736.9 482.2 739.8 C483.0 742.7 483.5 747.5 484.5 749.4 C485.5 751.3 487.6 751.7 489.1 752.4 C490.6 753.1 493.2 751.4 494.5 753.9 C495.8 756.4 496.8 764.6 497.6 769.1 C498.4 773.6 498.2 780.1 499.7 784.2 C501.2 788.3 505.7 793.4 507.3 796.4 C508.9 799.4 510.3 801.6 510.3 803.9 C510.3 806.2 506.9 808.3 507.3 811.5 C507.8 814.7 511.5 820.7 513.3 825.2 C515.1 829.7 517.1 839.2 519.4 841.2 C521.7 843.2 526.0 836.2 528.5 838.2 C531.0 840.2 534.1 854.8 536.1 854.5 C538.1 854.2 539.8 837.6 542.1 836.4 C544.4 835.2 547.3 845.4 551.2 846.4 C555.1 847.4 563.8 845.1 567.9 843.3 C572.0 841.5 575.3 836.2 578.5 834.2 C581.7 832.2 586.4 832.7 589.1 829.7 C591.8 826.7 594.9 819.0 596.7 814.5 C598.5 810.0 599.8 803.9 601.2 799.4 C602.6 794.9 604.8 789.2 605.8 784.2 C606.8 779.2 606.8 772.0 607.9 766.1 C609.0 760.2 611.6 748.9 613.3 744.8 C615.0 740.7 618.3 741.3 619.4 738.8 C620.5 736.3 620.7 732.0 620.4 728.0 C620.1 724.0 618.4 717.1 617.5 712.4 C616.6 707.7 615.1 701.4 614.5 696.7 C613.9 692.0 613.0 684.8 613.5 681.0 C614.0 677.2 616.9 674.4 617.5 671.2 C618.1 668.0 618.2 662.9 617.5 659.4 C616.8 655.9 614.1 651.1 612.5 647.6 C610.9 644.1 607.7 640.3 606.7 635.9 C605.7 631.5 606.2 623.8 605.7 618.2 C605.2 612.6 604.3 604.5 603.7 598.6 C603.1 592.7 602.2 585.5 601.8 579.0 C601.4 572.5 600.7 560.5 600.8 555.5 C600.9 550.5 603.2 549.5 602.7 545.7 C602.2 541.9 598.2 532.7 597.8 530.0 C597.4 527.3 598.9 529.6 599.8 527.8 C600.7 526.0 602.5 520.9 603.7 518.0 C604.9 515.1 607.1 511.4 607.6 508.2 C608.1 505.0 606.2 499.7 606.7 496.5 C607.2 493.3 609.6 489.9 610.6 486.7 C611.6 483.5 613.2 478.7 613.5 474.9 C613.8 471.1 612.0 464.3 612.5 461.2 C613.0 458.1 616.5 457.0 616.5 454.3 C616.5 451.6 613.7 446.6 612.5 443.5 C611.3 440.4 609.3 436.3 608.6 433.7 C607.9 431.1 607.0 428.8 607.6 425.9 C608.2 423.0 611.5 417.0 612.5 414.1 C613.5 411.2 614.4 407.6 614.1 406.3 C613.8 405.0 611.7 404.1 610.6 405.3 C609.5 406.5 607.9 411.2 606.7 414.1 C605.5 417.0 604.0 423.1 602.7 424.9 C601.4 426.7 599.4 427.1 597.8 425.9 C596.2 424.7 593.6 420.0 592.0 417.1 C590.4 414.2 588.3 409.7 587.1 406.3 C585.9 402.9 584.7 398.0 584.1 394.5 C583.5 391.0 583.7 385.9 583.1 382.7 C582.5 379.5 581.7 375.7 580.2 372.9 C578.7 370.1 575.2 366.1 573.3 364.1 C571.4 362.1 568.8 359.7 567.5 359.8 C566.2 359.9 565.4 363.2 564.5 365.1 C563.6 367.0 562.6 371.9 561.6 372.5 C560.6 373.1 558.9 370.5 557.6 369.0 C556.3 367.5 554.5 363.7 552.7 362.2 C550.9 360.7 547.8 360.7 545.9 359.2 C544.0 357.7 541.5 354.3 540.0 352.4 C538.5 350.5 537.3 347.8 536.1 346.5 C534.9 345.2 533.7 343.5 532.2 343.9 C530.7 344.3 527.8 349.0 526.3 349.4 C524.8 349.8 523.3 348.0 522.4 346.5 C521.5 345.0 520.8 341.3 520.0 339.6 C519.2 337.9 517.8 335.3 516.9 335.3 C516.0 335.3 514.3 337.8 514.1 339.6 C513.9 341.4 514.9 344.6 515.5 347.5 C516.1 350.4 518.1 355.1 518.4 359.2 C518.7 363.3 517.9 370.9 517.5 374.9 C517.1 378.9 516.8 383.6 515.5 385.7 C514.2 387.8 509.8 386.4 508.6 388.6 C507.4 390.8 508.5 397.5 507.6 400.4 C506.7 403.3 504.0 406.1 502.7 408.2 C501.4 410.3 500.4 413.7 498.8 414.1 C497.2 414.6 493.8 410.3 492.0 411.2 C490.2 412.1 488.6 417.2 487.1 420.0 C485.6 422.8 484.1 427.6 482.2 429.8 C480.3 432.0 476.1 432.9 474.3 434.7 C472.5 436.5 470.8 438.8 470.4 441.6 C470.0 444.4 470.7 449.6 471.4 453.3 C472.1 457.0 475.8 462.8 475.3 466.1 C474.9 469.4 470.1 472.3 468.4 475.0Z" fill="none" stroke="#fff" stroke-width="2.5" stroke-linejoin="round"/>
<ellipse cx="479.4" cy="581.6" rx="5.5" ry="18.7" transform="rotate(-13.7 479.4 581.6)" fill="none" stroke="#fff" stroke-width="2.5"/>
<ellipse cx="481.6" cy="618.1" rx="5.8" ry="13.4" transform="rotate(-4 481.6 618.1)" fill="none" stroke="#fff" stroke-width="2.5"/>
<ellipse cx="473.2" cy="665.4" rx="5.0" ry="8.9" transform="rotate(-5 473.2 665.4)" fill="none" stroke="#fff" stroke-width="2.5"/>
<ellipse cx="620.8" cy="574.1" rx="4.6" ry="12.2" transform="rotate(3 620.8 574.1)" fill="none" stroke="#fff" stroke-width="2.5"/>
<ellipse cx="467.0" cy="740.0" rx="3.0" ry="7.0" transform="rotate(8 467.0 740.0)" fill="none" stroke="#fff" stroke-width="2.5"/>
<ellipse cx="627.5" cy="763.0" rx="3.3" ry="7.5" transform="rotate(0 627.5 763.0)" fill="none" stroke="#fff" stroke-width="2.5"/>
<ellipse cx="625.0" cy="787.4" rx="3.3" ry="7.5" transform="rotate(-12 625.0 787.4)" fill="none" stroke="#fff" stroke-width="2.5"/>
<ellipse cx="575.0" cy="806.6" rx="2.4" ry="6.0" transform="rotate(8 575.0 806.6)" fill="none" stroke="#fff" stroke-width="2.5"/>
<circle cx="500.8" cy="366.1" r="1.6" fill="#fff"/>
<circle cx="487.1" cy="450.0" r="1.6" fill="#fff"/>
<circle cx="324.3" cy="602.3" r="1.6" fill="#fff"/>
<path d="M421.4 474.7H672.4V725.5H421.4Z" fill="none" stroke="#000" stroke-width="4.8" stroke-dasharray="17.76 7.68"/>
<path d="M532.3 600.1H561.5M546.9 585.5V614.7" stroke="#fff" stroke-width="5.5" fill="none"/>
<ellipse cx="170.5" cy="976.5" rx="7.8" ry="14" transform="rotate(-8 170.5 976.5)" fill="#fff"/>
<rect x="844" y="972" width="84" height="9.8" fill="#fff"/>
</g>
<text x="886.0" y="956.2" font-size="33.75" text-anchor="middle" style="fill:#fff" font-weight="bold" >25 au</text>
<g clip-path="url(#clipM)">
<path d="M1328.4 375.0H1357.6M1343.0 360.4V389.6" stroke="#fff" stroke-width="5.5" fill="none"/>
<ellipse cx="1188.5" cy="529.4" rx="11.6" ry="20.4" transform="rotate(-9 1188.5 529.4)" fill="#fff"/>
<rect x="1446.2" y="544" width="56.2" height="9.4" fill="#fff"/>
<path d="M1496.3 329.7L1518.3 318.7L1518.3 340.7Z" fill="#000"/>
<path d="M1496.3 420.3L1518.3 409.3L1518.3 431.3Z" fill="#000"/>
<path d="M1496.3 375.0L1518.3 364.0L1518.3 386.0Z" fill="#d4711e"/>
<path d="M1329.2 528.0L1340.2 550.0L1318.2 550.0Z" fill="#000"/>
<path d="M1356.8 528.0L1367.8 550.0L1345.8 550.0Z" fill="#000"/>
<path d="M1343.0 528.0L1354.0 550.0L1332.0 550.0Z" fill="#d4711e"/>
</g>
<text x="1474.4" y="533.0" font-size="33.75" text-anchor="middle" style="fill:#fff" font-weight="bold" >10 au</text>
<path d="M337.75 182.00v16.67M546.90 182.00v16.67M756.05 182.00v16.67" stroke="#fff" stroke-width="4.17" fill="none"/>
<path d="M337.75 1018.20v-16.67M546.90 1018.20v-16.67M756.05 1018.20v-16.67" stroke="#fff" stroke-width="4.17" fill="none"/>
<path d="M128.60 391.05h16.67M128.60 600.10h16.67M128.60 809.15h16.67" stroke="#fff" stroke-width="4.17" fill="none"/>
<path d="M965.20 391.05h-16.67M965.20 600.10h-16.67M965.20 809.15h-16.67" stroke="#fff" stroke-width="4.17" fill="none"/>
<rect x="128.60" y="182.00" width="836.60" height="836.20" fill="none" stroke="#000" stroke-width="3.70" stroke-linejoin="miter"/>
<path d="M1246.45 182.00v16.67M1343.00 182.00v16.67M1439.55 182.00v16.67" stroke="#fff" stroke-width="4.17" fill="none"/>
<path d="M1246.45 568.00v-16.67M1343.00 568.00v-16.67M1439.55 568.00v-16.67" stroke="#fff" stroke-width="4.17" fill="none"/>
<path d="M1149.90 278.50h16.67M1149.90 375.00h16.67M1149.90 471.50h16.67" stroke="#fff" stroke-width="4.17" fill="none"/>
<path d="M1536.10 278.50h-16.67M1536.10 375.00h-16.67M1536.10 471.50h-16.67" stroke="#fff" stroke-width="4.17" fill="none"/>
<rect x="1149.90" y="182.00" width="386.20" height="386.00" fill="none" stroke="#000" stroke-width="3.70" stroke-linejoin="miter"/>
<text x="128.6" y="1058.3" font-size="29.17" text-anchor="middle" >1.0</text>
<text x="111.9" y="192.6" font-size="29.17" text-anchor="end" >1.0</text>
<text x="337.8" y="1058.3" font-size="29.17" text-anchor="middle" >0.5</text>
<text x="111.9" y="401.7" font-size="29.17" text-anchor="end" >0.5</text>
<text x="546.9" y="1058.3" font-size="29.17" text-anchor="middle" >0</text>
<text x="111.9" y="610.7" font-size="29.17" text-anchor="end" >0</text>
<text x="756.1" y="1058.3" font-size="29.17" text-anchor="middle" >-0.5</text>
<text x="111.9" y="819.8" font-size="29.17" text-anchor="end" >-0.5</text>
<text x="965.2" y="1058.3" font-size="29.17" text-anchor="middle" >-1.0</text>
<text x="111.9" y="1028.8" font-size="29.17" text-anchor="end" >-1.0</text>
<text x="546.9" y="1105.7" font-size="33.75" text-anchor="middle" >Δ RA (")</text>
<text x="26.4" y="601.5" font-size="33.75" text-anchor="middle" transform="rotate(-90 26.4 601.5)" >Δ Dec (")</text>
<rect x="128.60" y="98.00" width="836.60" height="50.00" fill="url(#cmg)"/>
<path d="M356.70 98.00v16.67M535.10 98.00v16.67M668.20 98.00v16.67M771.00 98.00v16.67M854.00 98.00v16.67M923.00 98.00v16.67" stroke="#000" stroke-width="4.17" fill="none"/>
<rect x="128.60" y="98.00" width="836.60" height="50.00" fill="none" stroke="#000" stroke-width="3.70" stroke-linejoin="miter"/>
<text x="128.6" y="75.3" font-size="29.17" text-anchor="middle" >0.0</text>
<text x="356.7" y="75.3" font-size="29.17" text-anchor="middle" >0.6</text>
<text x="535.1" y="75.3" font-size="29.17" text-anchor="middle" >1.0</text>
<text x="668.2" y="75.3" font-size="29.17" text-anchor="middle" >1.4</text>
<text x="771.0" y="75.3" font-size="29.17" text-anchor="middle" >1.6</text>
<text x="854.0" y="75.3" font-size="29.17" text-anchor="middle" >1.8</text>
<text x="923.0" y="75.3" font-size="29.17" text-anchor="middle" >2.0</text>
<text x="547.0" y="30.5" font-size="33.75" text-anchor="middle" >1.3 mm continuum (mJy beam<tspan dy="-13.8" dx="1.2" font-size="23.6">−1</tspan><tspan dy="13.8" dx="1">)</tspan></text>
<rect x="1149.90" y="143.10" width="386.20" height="22.90" fill="url(#cmg)"/>
<path d="M1272.10 143.10v16.67M1394.30 143.10v16.67M1516.50 143.10v16.67" stroke="#000" stroke-width="4.17" fill="none"/>
<rect x="1149.90" y="143.10" width="386.20" height="22.90" fill="none" stroke="#000" stroke-width="3.70" stroke-linejoin="miter"/>
<text x="1149.9" y="120.3" font-size="29.17" text-anchor="middle" >0</text>
<text x="1272.1" y="120.3" font-size="29.17" text-anchor="middle" >20</text>
<text x="1394.3" y="120.3" font-size="29.17" text-anchor="middle" >40</text>
<text x="1516.5" y="120.3" font-size="29.17" text-anchor="middle" >60</text>
<text x="1343.0" y="78.2" font-size="33.75" text-anchor="middle" >1.3 mm continuum (K)</text>
<text x="1149.9" y="606.7" font-size="29.17" text-anchor="middle" >0.3</text>
<text x="1133.2" y="192.6" font-size="29.17" text-anchor="end" >0.3</text>
<text x="1246.5" y="606.7" font-size="29.17" text-anchor="middle" >0.15</text>
<text x="1133.2" y="289.1" font-size="29.17" text-anchor="end" >0.15</text>
<text x="1343.0" y="606.7" font-size="29.17" text-anchor="middle" >0</text>
<text x="1133.2" y="385.6" font-size="29.17" text-anchor="end" >0</text>
<text x="1439.5" y="606.7" font-size="29.17" text-anchor="middle" >-0.15</text>
<text x="1133.2" y="482.1" font-size="29.17" text-anchor="end" >-0.15</text>
<text x="1536.1" y="606.7" font-size="29.17" text-anchor="middle" >-0.3</text>
<text x="1133.2" y="578.6" font-size="29.17" text-anchor="end" >-0.3</text>
<text x="1028.9" y="376.7" font-size="33.75" text-anchor="middle" transform="rotate(-90 1028.9 376.7)" >Δ Dec (")</text>
<g clip-path="url(#clipR)">
<path d="M1762.0 558.5 C1762.1 558.2 1760.9 561.8 1762.7 556.7 C1764.5 551.6 1769.7 537.5 1772.6 527.9 C1775.5 518.3 1777.8 508.9 1780.2 499.0 C1782.6 489.1 1784.9 478.6 1787.0 468.8 C1789.1 459.0 1791.1 449.4 1793.0 440.0 C1794.9 430.6 1796.6 421.0 1798.3 412.7 C1800.0 404.4 1801.1 398.1 1802.9 390.0 C1804.7 381.9 1806.8 373.3 1808.9 363.9 C1811.1 354.5 1813.7 343.5 1815.8 333.6 C1817.9 323.8 1819.8 313.6 1821.8 304.8 C1823.8 296.0 1825.9 287.7 1827.9 280.6 C1829.9 273.5 1831.9 267.2 1833.9 262.4 C1835.9 257.6 1838.0 254.1 1840.0 251.8 C1842.0 249.5 1844.1 248.9 1846.1 248.8 C1848.1 248.7 1849.6 249.3 1852.1 251.1 C1854.6 252.9 1858.2 257.0 1861.2 259.4 C1864.2 261.8 1867.3 263.6 1870.3 265.5 C1873.3 267.4 1876.9 268.8 1879.4 270.8 C1881.9 272.8 1883.5 275.0 1885.5 277.6 C1887.5 280.2 1889.5 283.2 1891.5 286.7 C1893.5 290.2 1895.6 294.3 1897.6 298.8 C1899.6 303.3 1901.6 308.6 1903.6 313.9 C1905.6 319.2 1907.7 324.5 1909.7 330.6 C1911.7 336.7 1913.8 343.2 1915.8 350.3 C1917.8 357.4 1920.2 366.4 1921.8 373.0 C1923.4 379.6 1923.9 382.1 1925.6 390.0 C1927.2 397.9 1929.7 410.2 1931.7 420.3 C1933.7 430.4 1935.7 440.5 1937.7 450.6 C1939.7 460.7 1941.7 470.8 1943.8 480.9 C1945.9 491.0 1948.2 501.1 1950.6 511.2 C1953.0 521.3 1956.0 533.9 1958.2 541.5 C1960.4 549.1 1962.5 553.9 1963.5 556.7 C1964.5 559.5 1964.1 558.2 1964.2 558.5 L1964.2 578.5 C1964.1 578.2 1964.5 579.5 1963.5 576.7 C1962.5 573.9 1960.4 569.1 1958.2 561.5 C1956.0 553.9 1953.0 541.3 1950.6 531.2 C1948.2 521.1 1945.9 511.0 1943.8 500.9 C1941.7 490.8 1939.7 480.7 1937.7 470.6 C1935.7 460.5 1933.7 450.4 1931.7 440.3 C1929.7 430.2 1927.2 417.9 1925.6 410.0 C1923.9 402.1 1923.4 399.6 1921.8 393.0 C1920.2 386.4 1917.8 377.4 1915.8 370.3 C1913.8 363.2 1911.7 356.7 1909.7 350.6 C1907.7 344.5 1905.6 339.2 1903.6 333.9 C1901.6 328.6 1899.6 323.3 1897.6 318.8 C1895.6 314.3 1893.5 310.2 1891.5 306.7 C1889.5 303.2 1887.5 300.2 1885.5 297.6 C1883.5 295.0 1881.9 292.8 1879.4 290.8 C1876.9 288.8 1873.3 287.4 1870.3 285.5 C1867.3 283.6 1864.2 281.8 1861.2 279.4 C1858.2 277.0 1854.6 272.9 1852.1 271.1 C1849.6 269.3 1848.1 268.7 1846.1 268.8 C1844.1 268.9 1842.0 269.5 1840.0 271.8 C1838.0 274.1 1835.9 277.6 1833.9 282.4 C1831.9 287.2 1829.9 293.5 1827.9 300.6 C1825.9 307.7 1823.8 316.0 1821.8 324.8 C1819.8 333.6 1817.9 343.8 1815.8 353.6 C1813.7 363.5 1811.1 374.5 1808.9 383.9 C1806.8 393.3 1804.7 401.9 1802.9 410.0 C1801.1 418.1 1800.0 424.4 1798.3 432.7 C1796.6 441.0 1794.9 450.6 1793.0 460.0 C1791.1 469.4 1789.1 479.0 1787.0 488.8 C1784.9 498.6 1782.6 509.1 1780.2 519.0 C1777.8 528.9 1775.5 538.3 1772.6 547.9 C1769.7 557.5 1764.5 571.6 1762.7 576.7 C1760.9 581.8 1762.1 578.2 1762.0 578.5 Z" fill="#b9b9bb"/>
<path d="M1762.0 568.5 C1762.1 568.2 1760.9 571.8 1762.7 566.7 C1764.5 561.6 1769.7 547.5 1772.6 537.9 C1775.5 528.3 1777.8 518.9 1780.2 509.0 C1782.6 499.1 1784.9 488.6 1787.0 478.8 C1789.1 469.0 1791.1 459.4 1793.0 450.0 C1794.9 440.6 1796.6 431.0 1798.3 422.7 C1800.0 414.4 1801.1 408.1 1802.9 400.0 C1804.7 391.9 1806.8 383.3 1808.9 373.9 C1811.1 364.5 1813.7 353.5 1815.8 343.6 C1817.9 333.8 1819.8 323.6 1821.8 314.8 C1823.8 306.0 1825.9 297.7 1827.9 290.6 C1829.9 283.5 1831.9 277.2 1833.9 272.4 C1835.9 267.6 1838.0 264.1 1840.0 261.8 C1842.0 259.5 1844.1 258.9 1846.1 258.8 C1848.1 258.7 1849.6 259.3 1852.1 261.1 C1854.6 262.9 1858.2 267.0 1861.2 269.4 C1864.2 271.8 1867.3 273.6 1870.3 275.5 C1873.3 277.4 1876.9 278.8 1879.4 280.8 C1881.9 282.8 1883.5 285.0 1885.5 287.6 C1887.5 290.2 1889.5 293.2 1891.5 296.7 C1893.5 300.2 1895.6 304.3 1897.6 308.8 C1899.6 313.3 1901.6 318.6 1903.6 323.9 C1905.6 329.2 1907.7 334.5 1909.7 340.6 C1911.7 346.7 1913.8 353.2 1915.8 360.3 C1917.8 367.4 1920.2 376.4 1921.8 383.0 C1923.4 389.6 1923.9 392.1 1925.6 400.0 C1927.2 407.9 1929.7 420.2 1931.7 430.3 C1933.7 440.4 1935.7 450.5 1937.7 460.6 C1939.7 470.7 1941.7 480.8 1943.8 490.9 C1945.9 501.0 1948.2 511.1 1950.6 521.2 C1953.0 531.3 1956.0 543.9 1958.2 551.5 C1960.4 559.1 1962.5 563.9 1963.5 566.7 C1964.5 569.5 1964.1 568.2 1964.2 568.5" fill="none" stroke="#b9b9bb" stroke-width="10.5" stroke-linejoin="round"/>
<path d="M1801.8 560.5 C1801.8 560.2 1801.3 563.6 1802.1 558.7 C1802.9 553.9 1805.0 541.0 1806.7 531.4 C1808.4 521.8 1810.2 510.7 1812.0 501.1 C1813.8 491.5 1815.5 482.4 1817.3 473.8 C1819.1 465.2 1820.8 457.2 1822.6 449.6 C1824.4 442.0 1826.1 434.5 1827.9 428.4 C1829.7 422.3 1831.4 417.0 1833.2 413.2 C1835.0 409.4 1836.7 407.2 1838.5 405.6 C1840.3 404.0 1842.0 403.5 1843.8 403.8 C1845.6 404.1 1847.2 405.4 1849.1 407.2 C1851.0 409.0 1853.2 411.8 1855.2 414.7 C1857.2 417.6 1858.9 421.6 1861.2 424.6 C1863.5 427.6 1866.3 430.5 1868.8 432.9 C1871.3 435.3 1873.9 437.0 1876.4 439.0 C1878.9 441.0 1881.4 442.7 1883.9 445.0 C1886.4 447.3 1889.0 449.7 1891.5 452.6 C1894.0 455.5 1896.6 459.0 1899.1 462.5 C1901.6 466.0 1904.2 469.9 1906.7 473.8 C1909.2 477.7 1911.7 481.6 1914.2 485.9 C1916.7 490.2 1919.5 494.6 1921.8 499.6 C1924.1 504.7 1926.0 510.2 1927.9 516.2 C1929.8 522.2 1931.4 528.8 1933.2 535.9 C1935.0 543.0 1937.5 554.6 1938.5 558.7 C1939.5 562.8 1938.8 560.2 1938.9 560.5 L1938.9 576.5 C1938.8 576.2 1939.5 578.8 1938.5 574.7 C1937.5 570.6 1935.0 559.0 1933.2 551.9 C1931.4 544.8 1929.8 538.2 1927.9 532.2 C1926.0 526.2 1924.1 520.7 1921.8 515.6 C1919.5 510.6 1916.7 506.2 1914.2 501.9 C1911.7 497.6 1909.2 493.7 1906.7 489.8 C1904.2 485.9 1901.6 482.0 1899.1 478.5 C1896.6 475.0 1894.0 471.5 1891.5 468.6 C1889.0 465.7 1886.4 463.3 1883.9 461.0 C1881.4 458.7 1878.9 457.0 1876.4 455.0 C1873.9 453.0 1871.3 451.3 1868.8 448.9 C1866.3 446.5 1863.5 443.6 1861.2 440.6 C1858.9 437.6 1857.2 433.6 1855.2 430.7 C1853.2 427.8 1851.0 425.0 1849.1 423.2 C1847.2 421.4 1845.6 420.1 1843.8 419.8 C1842.0 419.5 1840.3 420.0 1838.5 421.6 C1836.7 423.2 1835.0 425.4 1833.2 429.2 C1831.4 433.0 1829.7 438.3 1827.9 444.4 C1826.1 450.5 1824.4 458.0 1822.6 465.6 C1820.8 473.2 1819.1 481.2 1817.3 489.8 C1815.5 498.4 1813.8 507.5 1812.0 517.1 C1810.2 526.7 1808.4 537.8 1806.7 547.4 C1805.0 557.0 1802.9 569.9 1802.1 574.7 C1801.3 579.6 1801.8 576.2 1801.8 576.5 Z" fill="#b9b9bb"/>
<path d="M1801.8 568.5 C1801.8 568.2 1801.3 571.6 1802.1 566.7 C1802.9 561.9 1805.0 549.0 1806.7 539.4 C1808.4 529.8 1810.2 518.7 1812.0 509.1 C1813.8 499.5 1815.5 490.4 1817.3 481.8 C1819.1 473.2 1820.8 465.2 1822.6 457.6 C1824.4 450.0 1826.1 442.5 1827.9 436.4 C1829.7 430.3 1831.4 425.0 1833.2 421.2 C1835.0 417.4 1836.7 415.2 1838.5 413.6 C1840.3 412.0 1842.0 411.5 1843.8 411.8 C1845.6 412.1 1847.2 413.4 1849.1 415.2 C1851.0 417.0 1853.2 419.8 1855.2 422.7 C1857.2 425.6 1858.9 429.6 1861.2 432.6 C1863.5 435.6 1866.3 438.5 1868.8 440.9 C1871.3 443.3 1873.9 445.0 1876.4 447.0 C1878.9 449.0 1881.4 450.7 1883.9 453.0 C1886.4 455.3 1889.0 457.7 1891.5 460.6 C1894.0 463.5 1896.6 467.0 1899.1 470.5 C1901.6 474.0 1904.2 477.9 1906.7 481.8 C1909.2 485.7 1911.7 489.6 1914.2 493.9 C1916.7 498.2 1919.5 502.6 1921.8 507.6 C1924.1 512.7 1926.0 518.2 1927.9 524.2 C1929.8 530.2 1931.4 536.8 1933.2 543.9 C1935.0 551.0 1937.5 562.6 1938.5 566.7 C1939.5 570.8 1938.8 568.2 1938.9 568.5" fill="none" stroke="#b9b9bb" stroke-width="10.5" stroke-linejoin="round"/>
<path d="M1783.4 558.5 C1783.5 558.2 1782.7 561.6 1783.9 556.7 C1785.1 551.9 1788.5 539.0 1790.8 529.4 C1793.1 519.8 1795.5 509.2 1797.6 499.1 C1799.7 489.0 1801.6 478.7 1803.6 468.8 C1805.6 458.9 1807.7 449.4 1809.7 440.0 C1811.7 430.6 1813.9 421.0 1815.8 412.7 C1817.7 404.4 1819.6 396.9 1821.1 390.0 C1822.6 383.1 1823.4 378.1 1824.8 371.5 C1826.2 364.9 1827.9 356.4 1829.4 350.3 C1830.9 344.2 1832.4 339.0 1833.9 335.2 C1835.4 331.4 1836.8 329.2 1838.5 327.6 C1840.2 326.0 1842.0 325.3 1843.8 325.3 C1845.6 325.3 1847.2 326.3 1849.1 327.6 C1851.0 328.9 1853.2 331.1 1855.2 332.9 C1857.2 334.7 1858.7 336.4 1861.2 338.2 C1863.7 340.0 1867.3 341.7 1870.3 343.5 C1873.3 345.3 1876.9 346.9 1879.4 348.8 C1881.9 350.7 1883.5 352.5 1885.5 354.8 C1887.5 357.1 1889.5 359.6 1891.5 362.4 C1893.5 365.2 1895.7 368.2 1897.6 371.5 C1899.5 374.8 1901.4 379.0 1902.9 382.1 C1904.4 385.2 1904.8 384.9 1906.7 390.0 C1908.6 395.1 1911.8 404.4 1914.2 412.7 C1916.6 421.0 1918.9 430.6 1921.1 440.0 C1923.2 449.4 1925.1 458.9 1927.1 468.8 C1929.1 478.7 1931.2 489.0 1933.2 499.1 C1935.2 509.2 1937.3 519.8 1939.2 529.4 C1941.1 539.0 1943.5 551.9 1944.5 556.7 C1945.5 561.6 1944.8 558.2 1944.9 558.5 L1944.9 578.5 C1944.8 578.2 1945.5 581.6 1944.5 576.7 C1943.5 571.9 1941.1 559.0 1939.2 549.4 C1937.3 539.8 1935.2 529.2 1933.2 519.1 C1931.2 509.0 1929.1 498.7 1927.1 488.8 C1925.1 478.9 1923.2 469.4 1921.1 460.0 C1918.9 450.6 1916.6 441.0 1914.2 432.7 C1911.8 424.4 1908.6 415.1 1906.7 410.0 C1904.8 404.9 1904.4 405.2 1902.9 402.1 C1901.4 399.0 1899.5 394.8 1897.6 391.5 C1895.7 388.2 1893.5 385.2 1891.5 382.4 C1889.5 379.6 1887.5 377.1 1885.5 374.8 C1883.5 372.5 1881.9 370.7 1879.4 368.8 C1876.9 366.9 1873.3 365.3 1870.3 363.5 C1867.3 361.7 1863.7 360.0 1861.2 358.2 C1858.7 356.4 1857.2 354.7 1855.2 352.9 C1853.2 351.1 1851.0 348.9 1849.1 347.6 C1847.2 346.3 1845.6 345.3 1843.8 345.3 C1842.0 345.3 1840.2 346.0 1838.5 347.6 C1836.8 349.2 1835.4 351.4 1833.9 355.2 C1832.4 359.0 1830.9 364.2 1829.4 370.3 C1827.9 376.4 1826.2 384.9 1824.8 391.5 C1823.4 398.1 1822.6 403.1 1821.1 410.0 C1819.6 416.9 1817.7 424.4 1815.8 432.7 C1813.9 441.0 1811.7 450.6 1809.7 460.0 C1807.7 469.4 1805.6 478.9 1803.6 488.8 C1801.6 498.7 1799.7 509.0 1797.6 519.1 C1795.5 529.2 1793.1 539.8 1790.8 549.4 C1788.5 559.0 1785.1 571.9 1783.9 576.7 C1782.7 581.6 1783.5 578.2 1783.4 578.5 Z" fill="#f1d5ae"/>
<path d="M1783.4 568.5 C1783.5 568.2 1782.7 571.6 1783.9 566.7 C1785.1 561.9 1788.5 549.0 1790.8 539.4 C1793.1 529.8 1795.5 519.2 1797.6 509.1 C1799.7 499.0 1801.6 488.7 1803.6 478.8 C1805.6 468.9 1807.7 459.4 1809.7 450.0 C1811.7 440.6 1813.9 431.0 1815.8 422.7 C1817.7 414.4 1819.6 406.9 1821.1 400.0 C1822.6 393.1 1823.4 388.1 1824.8 381.5 C1826.2 374.9 1827.9 366.4 1829.4 360.3 C1830.9 354.2 1832.4 349.0 1833.9 345.2 C1835.4 341.4 1836.8 339.2 1838.5 337.6 C1840.2 336.0 1842.0 335.3 1843.8 335.3 C1845.6 335.3 1847.2 336.3 1849.1 337.6 C1851.0 338.9 1853.2 341.1 1855.2 342.9 C1857.2 344.7 1858.7 346.4 1861.2 348.2 C1863.7 350.0 1867.3 351.7 1870.3 353.5 C1873.3 355.3 1876.9 356.9 1879.4 358.8 C1881.9 360.7 1883.5 362.5 1885.5 364.8 C1887.5 367.1 1889.5 369.6 1891.5 372.4 C1893.5 375.2 1895.7 378.2 1897.6 381.5 C1899.5 384.8 1901.4 389.0 1902.9 392.1 C1904.4 395.2 1904.8 394.9 1906.7 400.0 C1908.6 405.1 1911.8 414.4 1914.2 422.7 C1916.6 431.0 1918.9 440.6 1921.1 450.0 C1923.2 459.4 1925.1 468.9 1927.1 478.8 C1929.1 488.7 1931.2 499.0 1933.2 509.1 C1935.2 519.2 1937.3 529.8 1939.2 539.4 C1941.1 549.0 1943.5 561.9 1944.5 566.7 C1945.5 571.6 1944.8 568.2 1944.9 568.5" fill="none" stroke="#f1d5ae" stroke-width="10.5" stroke-linejoin="round"/>
<path d="M1762.0 568.5 C1762.1 568.2 1760.9 571.8 1762.7 566.7 C1764.5 561.6 1769.7 547.5 1772.6 537.9 C1775.5 528.3 1777.8 518.9 1780.2 509.0 C1782.6 499.1 1784.9 488.6 1787.0 478.8 C1789.1 469.0 1791.1 459.4 1793.0 450.0 C1794.9 440.6 1796.6 431.0 1798.3 422.7 C1800.0 414.4 1801.1 408.1 1802.9 400.0 C1804.7 391.9 1806.8 383.3 1808.9 373.9 C1811.1 364.5 1813.7 353.5 1815.8 343.6 C1817.9 333.8 1819.8 323.6 1821.8 314.8 C1823.8 306.0 1825.9 297.7 1827.9 290.6 C1829.9 283.5 1831.9 277.2 1833.9 272.4 C1835.9 267.6 1838.0 264.1 1840.0 261.8 C1842.0 259.5 1844.1 258.9 1846.1 258.8 C1848.1 258.7 1849.6 259.3 1852.1 261.1 C1854.6 262.9 1858.2 267.0 1861.2 269.4 C1864.2 271.8 1867.3 273.6 1870.3 275.5 C1873.3 277.4 1876.9 278.8 1879.4 280.8 C1881.9 282.8 1883.5 285.0 1885.5 287.6 C1887.5 290.2 1889.5 293.2 1891.5 296.7 C1893.5 300.2 1895.6 304.3 1897.6 308.8 C1899.6 313.3 1901.6 318.6 1903.6 323.9 C1905.6 329.2 1907.7 334.5 1909.7 340.6 C1911.7 346.7 1913.8 353.2 1915.8 360.3 C1917.8 367.4 1920.2 376.4 1921.8 383.0 C1923.4 389.6 1923.9 392.1 1925.6 400.0 C1927.2 407.9 1929.7 420.2 1931.7 430.3 C1933.7 440.4 1935.7 450.5 1937.7 460.6 C1939.7 470.7 1941.7 480.8 1943.8 490.9 C1945.9 501.0 1948.2 511.1 1950.6 521.2 C1953.0 531.3 1956.0 543.9 1958.2 551.5 C1960.4 559.1 1962.5 563.9 1963.5 566.7 C1964.5 569.5 1964.1 568.2 1964.2 568.5" fill="none" stroke="#000" stroke-width="5.0" stroke-linejoin="round"/>
<path d="M1801.8 568.5 C1801.8 568.2 1801.3 571.6 1802.1 566.7 C1802.9 561.9 1805.0 549.0 1806.7 539.4 C1808.4 529.8 1810.2 518.7 1812.0 509.1 C1813.8 499.5 1815.5 490.4 1817.3 481.8 C1819.1 473.2 1820.8 465.2 1822.6 457.6 C1824.4 450.0 1826.1 442.5 1827.9 436.4 C1829.7 430.3 1831.4 425.0 1833.2 421.2 C1835.0 417.4 1836.7 415.2 1838.5 413.6 C1840.3 412.0 1842.0 411.5 1843.8 411.8 C1845.6 412.1 1847.2 413.4 1849.1 415.2 C1851.0 417.0 1853.2 419.8 1855.2 422.7 C1857.2 425.6 1858.9 429.6 1861.2 432.6 C1863.5 435.6 1866.3 438.5 1868.8 440.9 C1871.3 443.3 1873.9 445.0 1876.4 447.0 C1878.9 449.0 1881.4 450.7 1883.9 453.0 C1886.4 455.3 1889.0 457.7 1891.5 460.6 C1894.0 463.5 1896.6 467.0 1899.1 470.5 C1901.6 474.0 1904.2 477.9 1906.7 481.8 C1909.2 485.7 1911.7 489.6 1914.2 493.9 C1916.7 498.2 1919.5 502.6 1921.8 507.6 C1924.1 512.7 1926.0 518.2 1927.9 524.2 C1929.8 530.2 1931.4 536.8 1933.2 543.9 C1935.0 551.0 1937.5 562.6 1938.5 566.7 C1939.5 570.8 1938.8 568.2 1938.9 568.5" fill="none" stroke="#000" stroke-width="5.0" stroke-linejoin="round"/>
<path d="M1783.4 568.5 C1783.5 568.2 1782.7 571.6 1783.9 566.7 C1785.1 561.9 1788.5 549.0 1790.8 539.4 C1793.1 529.8 1795.5 519.2 1797.6 509.1 C1799.7 499.0 1801.6 488.7 1803.6 478.8 C1805.6 468.9 1807.7 459.4 1809.7 450.0 C1811.7 440.6 1813.9 431.0 1815.8 422.7 C1817.7 414.4 1819.6 406.9 1821.1 400.0 C1822.6 393.1 1823.4 388.1 1824.8 381.5 C1826.2 374.9 1827.9 366.4 1829.4 360.3 C1830.9 354.2 1832.4 349.0 1833.9 345.2 C1835.4 341.4 1836.8 339.2 1838.5 337.6 C1840.2 336.0 1842.0 335.3 1843.8 335.3 C1845.6 335.3 1847.2 336.3 1849.1 337.6 C1851.0 338.9 1853.2 341.1 1855.2 342.9 C1857.2 344.7 1858.7 346.4 1861.2 348.2 C1863.7 350.0 1867.3 351.7 1870.3 353.5 C1873.3 355.3 1876.9 356.9 1879.4 358.8 C1881.9 360.7 1883.5 362.5 1885.5 364.8 C1887.5 367.1 1889.5 369.6 1891.5 372.4 C1893.5 375.2 1895.7 378.2 1897.6 381.5 C1899.5 384.8 1901.4 389.0 1902.9 392.1 C1904.4 395.2 1904.8 394.9 1906.7 400.0 C1908.6 405.1 1911.8 414.4 1914.2 422.7 C1916.6 431.0 1918.9 440.6 1921.1 450.0 C1923.2 459.4 1925.1 468.9 1927.1 478.8 C1929.1 488.7 1931.2 499.0 1933.2 509.1 C1935.2 519.2 1937.3 529.8 1939.2 539.4 C1941.1 549.0 1943.5 561.9 1944.5 566.7 C1945.5 571.6 1944.8 568.2 1944.9 568.5" fill="none" stroke="#d4711e" stroke-width="5.0" stroke-linejoin="round"/>
<path d="M1765.4 568.5 C1765.5 568.2 1765.1 569.5 1766.1 566.7 C1767.1 563.9 1769.2 559.1 1771.4 551.5 C1773.5 543.9 1776.6 531.3 1779.0 521.2 C1781.4 511.1 1783.7 501.0 1785.8 490.9 C1787.9 480.8 1789.9 470.7 1791.9 460.6 C1793.9 450.5 1795.9 440.4 1797.9 430.3 C1799.9 420.2 1802.3 407.9 1804.0 400.0 C1805.7 392.1 1806.2 389.6 1807.8 383.0 C1809.4 376.4 1811.8 367.4 1813.8 360.3 C1815.8 353.2 1817.9 346.7 1819.9 340.6 C1821.9 334.5 1824.0 329.2 1826.0 323.9 C1828.0 318.6 1830.0 313.3 1832.0 308.8 C1834.0 304.3 1836.1 300.2 1838.1 296.7 C1840.1 293.2 1842.1 290.2 1844.1 287.6 C1846.1 285.0 1847.7 282.8 1850.2 280.8 C1852.7 278.8 1856.3 277.4 1859.3 275.5 C1862.3 273.6 1865.4 271.8 1868.4 269.4 C1871.4 267.0 1875.0 262.9 1877.5 261.1 C1880.0 259.3 1881.5 258.7 1883.5 258.8 C1885.5 258.9 1887.6 259.5 1889.6 261.8 C1891.6 264.1 1893.7 267.6 1895.7 272.4 C1897.7 277.2 1899.7 283.5 1901.7 290.6 C1903.7 297.7 1905.8 306.0 1907.8 314.8 C1909.8 323.6 1911.7 333.8 1913.8 343.6 C1915.9 353.5 1918.5 364.5 1920.7 373.9 C1922.8 383.3 1924.9 391.9 1926.7 400.0 C1928.5 408.1 1929.6 414.4 1931.3 422.7 C1933.0 431.0 1934.7 440.6 1936.6 450.0 C1938.5 459.4 1940.5 469.0 1942.6 478.8 C1944.7 488.6 1947.0 499.1 1949.4 509.0 C1951.8 518.9 1954.1 528.3 1957.0 537.9 C1959.9 547.5 1965.1 561.6 1966.9 566.7 C1968.7 571.8 1967.5 568.2 1967.6 568.5" fill="none" stroke="#000" stroke-width="7.3" stroke-dasharray="7.30 12.04" stroke-dashoffset="0.0"/>
<path d="M1790.7 568.5 C1790.8 568.2 1790.1 570.8 1791.1 566.7 C1792.0 562.6 1794.6 551.0 1796.4 543.9 C1798.2 536.8 1799.8 530.2 1801.7 524.2 C1803.6 518.2 1805.5 512.7 1807.8 507.6 C1810.1 502.6 1812.9 498.2 1815.4 493.9 C1817.9 489.6 1820.4 485.7 1822.9 481.8 C1825.4 477.9 1828.0 474.0 1830.5 470.5 C1833.0 467.0 1835.6 463.5 1838.1 460.6 C1840.6 457.7 1843.2 455.3 1845.7 453.0 C1848.2 450.7 1850.7 449.0 1853.2 447.0 C1855.7 445.0 1858.3 443.3 1860.8 440.9 C1863.3 438.5 1866.1 435.6 1868.4 432.6 C1870.7 429.6 1872.4 425.6 1874.4 422.7 C1876.4 419.8 1878.6 417.0 1880.5 415.2 C1882.4 413.4 1884.0 412.1 1885.8 411.8 C1887.6 411.5 1889.3 412.0 1891.1 413.6 C1892.9 415.2 1894.6 417.4 1896.4 421.2 C1898.2 425.0 1899.9 430.3 1901.7 436.4 C1903.5 442.5 1905.2 450.0 1907.0 457.6 C1908.8 465.2 1910.5 473.2 1912.3 481.8 C1914.1 490.4 1915.8 499.5 1917.6 509.1 C1919.4 518.7 1921.2 529.8 1922.9 539.4 C1924.5 549.0 1926.7 561.9 1927.5 566.7 C1928.3 571.6 1927.8 568.2 1927.8 568.5" fill="none" stroke="#000" stroke-width="7.3" stroke-dasharray="7.30 12.04" stroke-dashoffset="0.0"/>
<path d="M1784.7 568.5 C1784.8 568.2 1784.1 571.6 1785.1 566.7 C1786.0 561.9 1788.5 549.0 1790.4 539.4 C1792.3 529.8 1794.4 519.2 1796.4 509.1 C1798.4 499.0 1800.5 488.7 1802.5 478.8 C1804.5 468.9 1806.3 459.4 1808.5 450.0 C1810.7 440.6 1813.0 431.0 1815.4 422.7 C1817.8 414.4 1821.0 405.1 1822.9 400.0 C1824.8 394.9 1825.2 395.2 1826.7 392.1 C1828.2 389.0 1830.1 384.8 1832.0 381.5 C1833.9 378.2 1836.1 375.2 1838.1 372.4 C1840.1 369.6 1842.1 367.1 1844.1 364.8 C1846.1 362.5 1847.7 360.7 1850.2 358.8 C1852.7 356.9 1856.3 355.3 1859.3 353.5 C1862.3 351.7 1865.9 350.0 1868.4 348.2 C1870.9 346.4 1872.4 344.7 1874.4 342.9 C1876.4 341.1 1878.6 338.9 1880.5 337.6 C1882.4 336.3 1884.0 335.3 1885.8 335.3 C1887.6 335.3 1889.4 336.0 1891.1 337.6 C1892.8 339.2 1894.2 341.4 1895.7 345.2 C1897.2 349.0 1898.7 354.2 1900.2 360.3 C1901.7 366.4 1903.4 374.9 1904.8 381.5 C1906.2 388.1 1907.0 393.1 1908.5 400.0 C1910.0 406.9 1911.9 414.4 1913.8 422.7 C1915.7 431.0 1917.9 440.6 1919.9 450.0 C1921.9 459.4 1924.0 468.9 1926.0 478.8 C1928.0 488.7 1929.9 499.0 1932.0 509.1 C1934.1 519.2 1936.5 529.8 1938.8 539.4 C1941.1 549.0 1944.5 561.9 1945.7 566.7 C1946.9 571.6 1946.1 568.2 1946.2 568.5" fill="none" stroke="#d4711e" stroke-width="7.3" stroke-dasharray="7.30 12.04" stroke-dashoffset="0.0"/>
</g>
<path d="M1672.00 182.00h16.67M1672.00 259.20h16.67M1672.00 336.40h16.67M1672.00 413.60h16.67M1672.00 490.80h16.67M1672.00 568.00h16.67" stroke="#000" stroke-width="4.17" fill="none"/>
<path d="M2057.60 182.00h-16.67M2057.60 259.20h-16.67M2057.60 336.40h-16.67M2057.60 413.60h-16.67M2057.60 490.80h-16.67M2057.60 568.00h-16.67" stroke="#000" stroke-width="4.17" fill="none"/>
<path d="M1736.20 568.00v-16.67M1864.80 568.00v-16.67M1993.40 568.00v-16.67" stroke="#000" stroke-width="4.17" fill="none"/>
<path d="M1681.40 182.00v16.67M1773.10 182.00v16.67M1864.80 182.00v16.67M1956.50 182.00v16.67M2048.20 182.00v16.67" stroke="#000" stroke-width="4.17" fill="none"/>
<rect x="1672.00" y="182.00" width="385.60" height="386.00" fill="none" stroke="#000" stroke-width="3.70" stroke-linejoin="miter"/>
<text x="1655.3" y="192.6" font-size="29.17" text-anchor="end" >1.4</text>
<text x="1655.3" y="269.8" font-size="29.17" text-anchor="end" >1.2</text>
<text x="1655.3" y="347.0" font-size="29.17" text-anchor="end" >1.0</text>
<text x="1655.3" y="424.2" font-size="29.17" text-anchor="end" >0.8</text>
<text x="1655.3" y="501.4" font-size="29.17" text-anchor="end" >0.6</text>
<text x="1655.3" y="578.6" font-size="29.17" text-anchor="end" >0.4</text>
<text x="1736.2" y="606.5" font-size="29.17" text-anchor="middle" >0.1</text>
<text x="1864.8" y="606.5" font-size="29.17" text-anchor="middle" >0.0</text>
<text x="1993.4" y="606.5" font-size="29.17" text-anchor="middle" >−0.1</text>
<text x="1681.4" y="158.8" font-size="29.17" text-anchor="middle" >20</text>
<text x="1773.1" y="158.8" font-size="29.17" text-anchor="middle" >10</text>
<text x="1864.8" y="158.8" font-size="29.17" text-anchor="middle" >0</text>
<text x="1956.5" y="158.8" font-size="29.17" text-anchor="middle" >-10</text>
<text x="2048.2" y="158.8" font-size="29.17" text-anchor="middle" >-20</text>
<text x="1862.8" y="109.0" font-size="33.75" text-anchor="middle" >Δ RA (au)</text>
<text x="1863.8" y="645.3" font-size="33.75" text-anchor="middle" >Δ RA (")</text>
<text x="1598.0" y="375.0" font-size="33.75" text-anchor="middle" transform="rotate(-90 1598.0 375.0)" >Normalized intensity</text>
<text x="1690.5" y="239.0" font-size="33.75" text-anchor="start" >East</text>
<text x="2039.5" y="239.0" font-size="33.75" text-anchor="end" >West</text>
<g clip-path="url(#clipB)">
<path d="M1139.0 636.0 C1140.3 636.6 1142.4 637.7 1146.6 639.8 C1150.8 641.9 1158.5 645.4 1164.0 648.5 C1169.5 651.6 1174.6 655.0 1179.4 658.2 C1184.2 661.4 1187.5 664.9 1193.0 667.9 C1198.5 670.9 1205.9 673.8 1212.3 676.5 C1218.7 679.2 1225.2 681.7 1231.6 684.3 C1238.0 686.9 1244.5 689.4 1250.9 692.0 C1257.4 694.6 1263.8 697.3 1270.3 699.7 C1276.8 702.1 1283.2 704.4 1289.6 706.5 C1296.0 708.6 1302.5 710.4 1308.9 712.3 C1315.3 714.2 1322.4 716.0 1328.2 718.1 C1334.0 720.2 1339.2 722.3 1343.7 724.9 C1348.2 727.5 1351.4 730.7 1355.3 733.6 C1359.2 736.5 1362.7 739.3 1366.9 742.2 C1371.1 745.1 1376.2 747.8 1380.4 750.9 C1384.6 754.0 1387.8 756.9 1392.0 760.6 C1396.2 764.3 1401.0 769.3 1405.5 773.2 C1410.0 777.1 1415.5 780.1 1419.0 783.8 C1422.5 787.5 1424.5 791.5 1426.8 795.4 C1429.1 799.3 1430.3 802.8 1432.6 807.0 C1434.8 811.2 1438.0 816.3 1440.3 820.5 C1442.5 824.7 1444.6 828.8 1446.1 832.0 C1447.5 835.2 1448.5 836.8 1449.0 839.7 C1449.5 842.6 1449.5 846.1 1449.0 849.3 C1448.5 852.5 1447.5 855.5 1446.1 859.0 C1444.6 862.5 1442.5 867.1 1440.3 870.6 C1438.0 874.1 1435.8 877.0 1432.6 880.2 C1429.4 883.4 1425.5 886.7 1421.0 889.9 C1416.5 893.1 1410.3 896.4 1405.5 899.6 C1400.7 902.8 1396.5 905.8 1392.0 909.2 C1387.5 912.6 1383.3 916.7 1378.5 919.9 C1373.7 923.1 1368.8 926.0 1363.0 928.6 C1357.2 931.2 1351.1 933.0 1343.7 935.3 C1336.3 937.5 1327.0 939.9 1318.6 942.1 C1310.2 944.4 1301.5 946.4 1293.5 948.8 C1285.5 951.2 1278.0 953.9 1270.3 956.6 C1262.6 959.4 1254.8 962.4 1247.1 965.3 C1239.4 968.2 1231.3 971.3 1223.9 974.0 C1216.5 976.7 1209.0 979.1 1202.6 981.7 C1196.1 984.3 1190.7 986.7 1185.2 989.4 C1179.7 992.1 1174.6 994.9 1169.8 998.1 C1165.0 1001.3 1160.8 1004.7 1156.3 1008.7 C1151.8 1012.7 1145.6 1019.4 1142.7 1022.3 C1139.8 1025.2 1139.6 1025.4 1139.0 1026.0 L1159.0 1026.0 C1159.6 1025.4 1159.8 1025.2 1162.7 1022.3 C1165.6 1019.4 1171.8 1012.7 1176.3 1008.7 C1180.8 1004.7 1185.0 1001.3 1189.8 998.1 C1194.6 994.9 1199.7 992.1 1205.2 989.4 C1210.7 986.7 1216.1 984.3 1222.6 981.7 C1229.0 979.1 1236.5 976.7 1243.9 974.0 C1251.3 971.3 1259.4 968.2 1267.1 965.3 C1274.8 962.4 1282.6 959.4 1290.3 956.6 C1298.0 953.9 1305.5 951.2 1313.5 948.8 C1321.5 946.4 1330.2 944.4 1338.6 942.1 C1347.0 939.9 1356.3 937.5 1363.7 935.3 C1371.1 933.0 1377.2 931.2 1383.0 928.6 C1388.8 926.0 1393.7 923.1 1398.5 919.9 C1403.3 916.7 1407.5 912.6 1412.0 909.2 C1416.5 905.8 1420.7 902.8 1425.5 899.6 C1430.3 896.4 1436.5 893.1 1441.0 889.9 C1445.5 886.7 1449.4 883.4 1452.6 880.2 C1455.8 877.0 1458.0 874.1 1460.3 870.6 C1462.5 867.1 1464.6 862.5 1466.1 859.0 C1467.5 855.5 1468.5 852.5 1469.0 849.3 C1469.5 846.1 1469.5 842.6 1469.0 839.7 C1468.5 836.8 1467.5 835.2 1466.1 832.0 C1464.6 828.8 1462.5 824.7 1460.3 820.5 C1458.0 816.3 1454.8 811.2 1452.6 807.0 C1450.3 802.8 1449.1 799.3 1446.8 795.4 C1444.5 791.5 1442.5 787.5 1439.0 783.8 C1435.5 780.1 1430.0 777.1 1425.5 773.2 C1421.0 769.3 1416.2 764.3 1412.0 760.6 C1407.8 756.9 1404.6 754.0 1400.4 750.9 C1396.2 747.8 1391.1 745.1 1386.9 742.2 C1382.7 739.3 1379.2 736.5 1375.3 733.6 C1371.4 730.7 1368.2 727.5 1363.7 724.9 C1359.2 722.3 1354.0 720.2 1348.2 718.1 C1342.4 716.0 1335.3 714.2 1328.9 712.3 C1322.5 710.4 1316.0 708.6 1309.6 706.5 C1303.2 704.4 1296.8 702.1 1290.3 699.7 C1283.8 697.3 1277.4 694.6 1270.9 692.0 C1264.5 689.4 1258.0 686.9 1251.6 684.3 C1245.2 681.7 1238.7 679.2 1232.3 676.5 C1225.9 673.8 1218.5 670.9 1213.0 667.9 C1207.5 664.9 1204.2 661.4 1199.4 658.2 C1194.6 655.0 1189.5 651.6 1184.0 648.5 C1178.5 645.4 1170.8 641.9 1166.6 639.8 C1162.4 637.7 1160.3 636.6 1159.0 636.0 Z" fill="#b9b9bb"/>
<path d="M1149.0 636.0 C1150.3 636.6 1152.4 637.7 1156.6 639.8 C1160.8 641.9 1168.5 645.4 1174.0 648.5 C1179.5 651.6 1184.6 655.0 1189.4 658.2 C1194.2 661.4 1197.5 664.9 1203.0 667.9 C1208.5 670.9 1215.9 673.8 1222.3 676.5 C1228.7 679.2 1235.2 681.7 1241.6 684.3 C1248.0 686.9 1254.5 689.4 1260.9 692.0 C1267.4 694.6 1273.8 697.3 1280.3 699.7 C1286.8 702.1 1293.2 704.4 1299.6 706.5 C1306.0 708.6 1312.5 710.4 1318.9 712.3 C1325.3 714.2 1332.4 716.0 1338.2 718.1 C1344.0 720.2 1349.2 722.3 1353.7 724.9 C1358.2 727.5 1361.4 730.7 1365.3 733.6 C1369.2 736.5 1372.7 739.3 1376.9 742.2 C1381.1 745.1 1386.2 747.8 1390.4 750.9 C1394.6 754.0 1397.8 756.9 1402.0 760.6 C1406.2 764.3 1411.0 769.3 1415.5 773.2 C1420.0 777.1 1425.5 780.1 1429.0 783.8 C1432.5 787.5 1434.5 791.5 1436.8 795.4 C1439.1 799.3 1440.3 802.8 1442.6 807.0 C1444.8 811.2 1448.0 816.3 1450.3 820.5 C1452.5 824.7 1454.6 828.8 1456.1 832.0 C1457.5 835.2 1458.5 836.8 1459.0 839.7 C1459.5 842.6 1459.5 846.1 1459.0 849.3 C1458.5 852.5 1457.5 855.5 1456.1 859.0 C1454.6 862.5 1452.5 867.1 1450.3 870.6 C1448.0 874.1 1445.8 877.0 1442.6 880.2 C1439.4 883.4 1435.5 886.7 1431.0 889.9 C1426.5 893.1 1420.3 896.4 1415.5 899.6 C1410.7 902.8 1406.5 905.8 1402.0 909.2 C1397.5 912.6 1393.3 916.7 1388.5 919.9 C1383.7 923.1 1378.8 926.0 1373.0 928.6 C1367.2 931.2 1361.1 933.0 1353.7 935.3 C1346.3 937.5 1337.0 939.9 1328.6 942.1 C1320.2 944.4 1311.5 946.4 1303.5 948.8 C1295.5 951.2 1288.0 953.9 1280.3 956.6 C1272.6 959.4 1264.8 962.4 1257.1 965.3 C1249.4 968.2 1241.3 971.3 1233.9 974.0 C1226.5 976.7 1219.0 979.1 1212.6 981.7 C1206.1 984.3 1200.7 986.7 1195.2 989.4 C1189.7 992.1 1184.6 994.9 1179.8 998.1 C1175.0 1001.3 1170.8 1004.7 1166.3 1008.7 C1161.8 1012.7 1155.6 1019.4 1152.7 1022.3 C1149.8 1025.2 1149.6 1025.4 1149.0 1026.0" fill="none" stroke="#b9b9bb" stroke-width="11.5" stroke-linejoin="round"/>
<path d="M1136.0 703.8 C1137.0 704.2 1138.1 704.8 1141.8 706.5 C1145.5 708.2 1152.2 711.6 1158.2 714.2 C1164.2 716.8 1171.1 719.2 1177.5 722.0 C1183.9 724.8 1191.0 727.8 1196.8 730.7 C1202.6 733.6 1207.8 736.2 1212.3 739.3 C1216.8 742.3 1220.4 745.8 1223.9 749.0 C1227.5 752.2 1230.1 755.5 1233.6 758.7 C1237.1 761.9 1241.6 765.1 1245.1 768.3 C1248.6 771.5 1252.4 774.8 1254.8 778.0 C1257.2 781.2 1258.0 784.5 1259.6 787.7 C1261.2 790.9 1262.1 794.1 1264.5 797.3 C1266.9 800.5 1271.2 803.8 1274.1 807.0 C1277.0 810.2 1280.0 813.4 1281.9 816.6 C1283.8 819.8 1284.7 823.7 1285.7 826.3 C1286.7 828.9 1286.6 829.8 1287.7 832.0 C1288.8 834.2 1291.6 837.1 1292.5 839.7 C1293.4 842.3 1293.9 844.5 1293.1 847.4 C1292.3 850.3 1289.4 854.2 1287.7 857.1 C1286.0 860.0 1283.5 862.2 1282.8 864.8 C1282.1 867.4 1283.4 869.9 1283.8 872.5 C1284.2 875.1 1285.6 877.6 1285.3 880.2 C1285.0 882.8 1284.1 885.2 1281.9 888.0 C1279.7 890.8 1276.1 893.8 1272.2 896.7 C1268.3 899.6 1263.5 902.5 1258.7 905.4 C1253.9 908.3 1248.7 911.4 1243.2 914.1 C1237.7 916.8 1231.9 919.2 1225.8 921.8 C1219.7 924.4 1213.3 926.9 1206.5 929.5 C1199.7 932.1 1192.3 934.8 1185.2 937.2 C1178.1 939.6 1171.2 941.9 1164.0 944.0 C1156.8 946.1 1146.5 948.6 1141.8 949.8 C1137.1 951.0 1137.0 951.0 1136.0 951.3 L1156.0 951.3 C1157.0 951.0 1157.1 951.0 1161.8 949.8 C1166.5 948.6 1176.8 946.1 1184.0 944.0 C1191.2 941.9 1198.1 939.6 1205.2 937.2 C1212.3 934.8 1219.7 932.1 1226.5 929.5 C1233.3 926.9 1239.7 924.4 1245.8 921.8 C1251.9 919.2 1257.7 916.8 1263.2 914.1 C1268.7 911.4 1273.9 908.3 1278.7 905.4 C1283.5 902.5 1288.3 899.6 1292.2 896.7 C1296.1 893.8 1299.7 890.8 1301.9 888.0 C1304.1 885.2 1305.0 882.8 1305.3 880.2 C1305.6 877.6 1304.2 875.1 1303.8 872.5 C1303.4 869.9 1302.1 867.4 1302.8 864.8 C1303.5 862.2 1306.0 860.0 1307.7 857.1 C1309.4 854.2 1312.3 850.3 1313.1 847.4 C1313.9 844.5 1313.4 842.3 1312.5 839.7 C1311.6 837.1 1308.8 834.2 1307.7 832.0 C1306.6 829.8 1306.7 828.9 1305.7 826.3 C1304.7 823.7 1303.8 819.8 1301.9 816.6 C1300.0 813.4 1297.0 810.2 1294.1 807.0 C1291.2 803.8 1286.9 800.5 1284.5 797.3 C1282.1 794.1 1281.2 790.9 1279.6 787.7 C1278.0 784.5 1277.2 781.2 1274.8 778.0 C1272.4 774.8 1268.6 771.5 1265.1 768.3 C1261.6 765.1 1257.1 761.9 1253.6 758.7 C1250.1 755.5 1247.5 752.2 1243.9 749.0 C1240.4 745.8 1236.8 742.3 1232.3 739.3 C1227.8 736.2 1222.6 733.6 1216.8 730.7 C1211.0 727.8 1203.9 724.8 1197.5 722.0 C1191.1 719.2 1184.2 716.8 1178.2 714.2 C1172.2 711.6 1165.5 708.2 1161.8 706.5 C1158.1 704.8 1157.0 704.2 1156.0 703.8 Z" fill="#b9b9bb"/>
<path d="M1146.0 703.8 C1147.0 704.2 1148.1 704.8 1151.8 706.5 C1155.5 708.2 1162.2 711.6 1168.2 714.2 C1174.2 716.8 1181.1 719.2 1187.5 722.0 C1193.9 724.8 1201.0 727.8 1206.8 730.7 C1212.6 733.6 1217.8 736.2 1222.3 739.3 C1226.8 742.3 1230.4 745.8 1233.9 749.0 C1237.5 752.2 1240.1 755.5 1243.6 758.7 C1247.1 761.9 1251.6 765.1 1255.1 768.3 C1258.6 771.5 1262.4 774.8 1264.8 778.0 C1267.2 781.2 1268.0 784.5 1269.6 787.7 C1271.2 790.9 1272.1 794.1 1274.5 797.3 C1276.9 800.5 1281.2 803.8 1284.1 807.0 C1287.0 810.2 1290.0 813.4 1291.9 816.6 C1293.8 819.8 1294.7 823.7 1295.7 826.3 C1296.7 828.9 1296.6 829.8 1297.7 832.0 C1298.8 834.2 1301.6 837.1 1302.5 839.7 C1303.4 842.3 1303.9 844.5 1303.1 847.4 C1302.3 850.3 1299.4 854.2 1297.7 857.1 C1296.0 860.0 1293.5 862.2 1292.8 864.8 C1292.1 867.4 1293.4 869.9 1293.8 872.5 C1294.2 875.1 1295.6 877.6 1295.3 880.2 C1295.0 882.8 1294.1 885.2 1291.9 888.0 C1289.7 890.8 1286.1 893.8 1282.2 896.7 C1278.3 899.6 1273.5 902.5 1268.7 905.4 C1263.9 908.3 1258.7 911.4 1253.2 914.1 C1247.7 916.8 1241.9 919.2 1235.8 921.8 C1229.7 924.4 1223.3 926.9 1216.5 929.5 C1209.7 932.1 1202.3 934.8 1195.2 937.2 C1188.1 939.6 1181.2 941.9 1174.0 944.0 C1166.8 946.1 1156.5 948.6 1151.8 949.8 C1147.1 951.0 1147.0 951.0 1146.0 951.3" fill="none" stroke="#b9b9bb" stroke-width="11.5" stroke-linejoin="round"/>
<path d="M1136.0 676.0 C1137.0 676.4 1137.1 676.5 1141.8 678.5 C1146.5 680.5 1157.1 685.4 1164.0 688.1 C1170.9 690.8 1176.9 692.6 1183.3 694.9 C1189.7 697.2 1196.1 699.6 1202.6 701.7 C1209.0 703.8 1215.5 705.6 1222.0 707.5 C1228.5 709.4 1235.2 711.2 1241.3 713.3 C1247.4 715.4 1253.2 717.6 1258.7 720.0 C1264.2 722.4 1268.9 725.2 1274.1 727.8 C1279.2 730.4 1284.8 732.8 1289.6 735.5 C1294.4 738.2 1299.2 741.3 1303.1 744.2 C1307.0 747.1 1309.9 749.9 1312.8 752.9 C1315.7 755.9 1317.6 759.0 1320.5 762.5 C1323.4 766.0 1327.0 770.2 1330.2 774.1 C1333.4 778.0 1336.6 781.8 1339.8 785.7 C1343.0 789.6 1346.6 793.8 1349.5 797.3 C1352.4 800.8 1355.3 804.1 1357.2 807.0 C1359.1 809.9 1360.3 811.8 1361.1 814.7 C1361.9 817.6 1361.8 821.7 1362.1 824.4 C1362.3 827.1 1362.1 828.8 1362.6 831.0 C1363.1 833.2 1363.8 835.3 1365.0 837.7 C1366.2 840.1 1368.8 843.1 1369.8 845.5 C1370.8 847.9 1371.6 849.6 1371.1 852.2 C1370.6 854.8 1368.9 857.8 1366.9 860.9 C1364.9 864.0 1361.5 867.4 1359.2 870.6 C1357.0 873.8 1356.0 877.2 1353.4 880.2 C1350.8 883.2 1347.9 886.0 1343.7 888.9 C1339.5 891.8 1333.0 894.5 1328.2 897.6 C1323.4 900.7 1319.5 904.1 1314.7 907.3 C1309.9 910.5 1304.8 913.9 1299.3 917.0 C1293.8 920.1 1288.4 922.8 1281.9 925.7 C1275.5 928.6 1267.7 931.6 1260.6 934.3 C1253.5 937.0 1246.7 939.5 1239.3 942.1 C1231.9 944.7 1223.9 947.2 1216.2 949.8 C1208.5 952.4 1200.7 954.9 1193.0 957.5 C1185.3 960.1 1178.3 962.5 1169.8 965.3 C1161.3 968.0 1147.4 972.2 1141.8 974.0 C1136.2 975.8 1137.0 975.5 1136.0 975.8 L1156.0 975.8 C1157.0 975.5 1156.2 975.8 1161.8 974.0 C1167.4 972.2 1181.3 968.0 1189.8 965.3 C1198.3 962.5 1205.3 960.1 1213.0 957.5 C1220.7 954.9 1228.5 952.4 1236.2 949.8 C1243.9 947.2 1251.9 944.7 1259.3 942.1 C1266.7 939.5 1273.5 937.0 1280.6 934.3 C1287.7 931.6 1295.5 928.6 1301.9 925.7 C1308.4 922.8 1313.8 920.1 1319.3 917.0 C1324.8 913.9 1329.9 910.5 1334.7 907.3 C1339.5 904.1 1343.4 900.7 1348.2 897.6 C1353.0 894.5 1359.5 891.8 1363.7 888.9 C1367.9 886.0 1370.8 883.2 1373.4 880.2 C1376.0 877.2 1377.0 873.8 1379.2 870.6 C1381.5 867.4 1384.9 864.0 1386.9 860.9 C1388.9 857.8 1390.6 854.8 1391.1 852.2 C1391.6 849.6 1390.8 847.9 1389.8 845.5 C1388.8 843.1 1386.2 840.1 1385.0 837.7 C1383.8 835.3 1383.1 833.2 1382.6 831.0 C1382.1 828.8 1382.3 827.1 1382.1 824.4 C1381.8 821.7 1381.9 817.6 1381.1 814.7 C1380.3 811.8 1379.1 809.9 1377.2 807.0 C1375.3 804.1 1372.4 800.8 1369.5 797.3 C1366.6 793.8 1363.0 789.6 1359.8 785.7 C1356.6 781.8 1353.4 778.0 1350.2 774.1 C1347.0 770.2 1343.4 766.0 1340.5 762.5 C1337.6 759.0 1335.7 755.9 1332.8 752.9 C1329.9 749.9 1327.0 747.1 1323.1 744.2 C1319.2 741.3 1314.4 738.2 1309.6 735.5 C1304.8 732.8 1299.2 730.4 1294.1 727.8 C1288.9 725.2 1284.2 722.4 1278.7 720.0 C1273.2 717.6 1267.4 715.4 1261.3 713.3 C1255.2 711.2 1248.5 709.4 1242.0 707.5 C1235.5 705.6 1229.0 703.8 1222.6 701.7 C1216.1 699.6 1209.7 697.2 1203.3 694.9 C1196.9 692.6 1190.9 690.8 1184.0 688.1 C1177.1 685.4 1166.5 680.5 1161.8 678.5 C1157.1 676.5 1157.0 676.4 1156.0 676.0 Z" fill="#f1d5ae"/>
<path d="M1146.0 676.0 C1147.0 676.4 1147.1 676.5 1151.8 678.5 C1156.5 680.5 1167.1 685.4 1174.0 688.1 C1180.9 690.8 1186.9 692.6 1193.3 694.9 C1199.7 697.2 1206.1 699.6 1212.6 701.7 C1219.0 703.8 1225.5 705.6 1232.0 707.5 C1238.5 709.4 1245.2 711.2 1251.3 713.3 C1257.4 715.4 1263.2 717.6 1268.7 720.0 C1274.2 722.4 1278.9 725.2 1284.1 727.8 C1289.2 730.4 1294.8 732.8 1299.6 735.5 C1304.4 738.2 1309.2 741.3 1313.1 744.2 C1317.0 747.1 1319.9 749.9 1322.8 752.9 C1325.7 755.9 1327.6 759.0 1330.5 762.5 C1333.4 766.0 1337.0 770.2 1340.2 774.1 C1343.4 778.0 1346.6 781.8 1349.8 785.7 C1353.0 789.6 1356.6 793.8 1359.5 797.3 C1362.4 800.8 1365.3 804.1 1367.2 807.0 C1369.1 809.9 1370.3 811.8 1371.1 814.7 C1371.9 817.6 1371.8 821.7 1372.1 824.4 C1372.3 827.1 1372.1 828.8 1372.6 831.0 C1373.1 833.2 1373.8 835.3 1375.0 837.7 C1376.2 840.1 1378.8 843.1 1379.8 845.5 C1380.8 847.9 1381.6 849.6 1381.1 852.2 C1380.6 854.8 1378.9 857.8 1376.9 860.9 C1374.9 864.0 1371.5 867.4 1369.2 870.6 C1367.0 873.8 1366.0 877.2 1363.4 880.2 C1360.8 883.2 1357.9 886.0 1353.7 888.9 C1349.5 891.8 1343.0 894.5 1338.2 897.6 C1333.4 900.7 1329.5 904.1 1324.7 907.3 C1319.9 910.5 1314.8 913.9 1309.3 917.0 C1303.8 920.1 1298.4 922.8 1291.9 925.7 C1285.5 928.6 1277.7 931.6 1270.6 934.3 C1263.5 937.0 1256.7 939.5 1249.3 942.1 C1241.9 944.7 1233.9 947.2 1226.2 949.8 C1218.5 952.4 1210.7 954.9 1203.0 957.5 C1195.3 960.1 1188.3 962.5 1179.8 965.3 C1171.3 968.0 1157.4 972.2 1151.8 974.0 C1146.2 975.8 1147.0 975.5 1146.0 975.8" fill="none" stroke="#f1d5ae" stroke-width="11.5" stroke-linejoin="round"/>
<path d="M1149.0 636.0 C1150.3 636.6 1152.4 637.7 1156.6 639.8 C1160.8 641.9 1168.5 645.4 1174.0 648.5 C1179.5 651.6 1184.6 655.0 1189.4 658.2 C1194.2 661.4 1197.5 664.9 1203.0 667.9 C1208.5 670.9 1215.9 673.8 1222.3 676.5 C1228.7 679.2 1235.2 681.7 1241.6 684.3 C1248.0 686.9 1254.5 689.4 1260.9 692.0 C1267.4 694.6 1273.8 697.3 1280.3 699.7 C1286.8 702.1 1293.2 704.4 1299.6 706.5 C1306.0 708.6 1312.5 710.4 1318.9 712.3 C1325.3 714.2 1332.4 716.0 1338.2 718.1 C1344.0 720.2 1349.2 722.3 1353.7 724.9 C1358.2 727.5 1361.4 730.7 1365.3 733.6 C1369.2 736.5 1372.7 739.3 1376.9 742.2 C1381.1 745.1 1386.2 747.8 1390.4 750.9 C1394.6 754.0 1397.8 756.9 1402.0 760.6 C1406.2 764.3 1411.0 769.3 1415.5 773.2 C1420.0 777.1 1425.5 780.1 1429.0 783.8 C1432.5 787.5 1434.5 791.5 1436.8 795.4 C1439.1 799.3 1440.3 802.8 1442.6 807.0 C1444.8 811.2 1448.0 816.3 1450.3 820.5 C1452.5 824.7 1454.6 828.8 1456.1 832.0 C1457.5 835.2 1458.5 836.8 1459.0 839.7 C1459.5 842.6 1459.5 846.1 1459.0 849.3 C1458.5 852.5 1457.5 855.5 1456.1 859.0 C1454.6 862.5 1452.5 867.1 1450.3 870.6 C1448.0 874.1 1445.8 877.0 1442.6 880.2 C1439.4 883.4 1435.5 886.7 1431.0 889.9 C1426.5 893.1 1420.3 896.4 1415.5 899.6 C1410.7 902.8 1406.5 905.8 1402.0 909.2 C1397.5 912.6 1393.3 916.7 1388.5 919.9 C1383.7 923.1 1378.8 926.0 1373.0 928.6 C1367.2 931.2 1361.1 933.0 1353.7 935.3 C1346.3 937.5 1337.0 939.9 1328.6 942.1 C1320.2 944.4 1311.5 946.4 1303.5 948.8 C1295.5 951.2 1288.0 953.9 1280.3 956.6 C1272.6 959.4 1264.8 962.4 1257.1 965.3 C1249.4 968.2 1241.3 971.3 1233.9 974.0 C1226.5 976.7 1219.0 979.1 1212.6 981.7 C1206.1 984.3 1200.7 986.7 1195.2 989.4 C1189.7 992.1 1184.6 994.9 1179.8 998.1 C1175.0 1001.3 1170.8 1004.7 1166.3 1008.7 C1161.8 1012.7 1155.6 1019.4 1152.7 1022.3 C1149.8 1025.2 1149.6 1025.4 1149.0 1026.0" fill="none" stroke="#000" stroke-width="5.0" stroke-linejoin="round"/>
<path d="M1146.0 703.8 C1147.0 704.2 1148.1 704.8 1151.8 706.5 C1155.5 708.2 1162.2 711.6 1168.2 714.2 C1174.2 716.8 1181.1 719.2 1187.5 722.0 C1193.9 724.8 1201.0 727.8 1206.8 730.7 C1212.6 733.6 1217.8 736.2 1222.3 739.3 C1226.8 742.3 1230.4 745.8 1233.9 749.0 C1237.5 752.2 1240.1 755.5 1243.6 758.7 C1247.1 761.9 1251.6 765.1 1255.1 768.3 C1258.6 771.5 1262.4 774.8 1264.8 778.0 C1267.2 781.2 1268.0 784.5 1269.6 787.7 C1271.2 790.9 1272.1 794.1 1274.5 797.3 C1276.9 800.5 1281.2 803.8 1284.1 807.0 C1287.0 810.2 1290.0 813.4 1291.9 816.6 C1293.8 819.8 1294.7 823.7 1295.7 826.3 C1296.7 828.9 1296.6 829.8 1297.7 832.0 C1298.8 834.2 1301.6 837.1 1302.5 839.7 C1303.4 842.3 1303.9 844.5 1303.1 847.4 C1302.3 850.3 1299.4 854.2 1297.7 857.1 C1296.0 860.0 1293.5 862.2 1292.8 864.8 C1292.1 867.4 1293.4 869.9 1293.8 872.5 C1294.2 875.1 1295.6 877.6 1295.3 880.2 C1295.0 882.8 1294.1 885.2 1291.9 888.0 C1289.7 890.8 1286.1 893.8 1282.2 896.7 C1278.3 899.6 1273.5 902.5 1268.7 905.4 C1263.9 908.3 1258.7 911.4 1253.2 914.1 C1247.7 916.8 1241.9 919.2 1235.8 921.8 C1229.7 924.4 1223.3 926.9 1216.5 929.5 C1209.7 932.1 1202.3 934.8 1195.2 937.2 C1188.1 939.6 1181.2 941.9 1174.0 944.0 C1166.8 946.1 1156.5 948.6 1151.8 949.8 C1147.1 951.0 1147.0 951.0 1146.0 951.3" fill="none" stroke="#000" stroke-width="5.0" stroke-linejoin="round"/>
<path d="M1146.0 676.0 C1147.0 676.4 1147.1 676.5 1151.8 678.5 C1156.5 680.5 1167.1 685.4 1174.0 688.1 C1180.9 690.8 1186.9 692.6 1193.3 694.9 C1199.7 697.2 1206.1 699.6 1212.6 701.7 C1219.0 703.8 1225.5 705.6 1232.0 707.5 C1238.5 709.4 1245.2 711.2 1251.3 713.3 C1257.4 715.4 1263.2 717.6 1268.7 720.0 C1274.2 722.4 1278.9 725.2 1284.1 727.8 C1289.2 730.4 1294.8 732.8 1299.6 735.5 C1304.4 738.2 1309.2 741.3 1313.1 744.2 C1317.0 747.1 1319.9 749.9 1322.8 752.9 C1325.7 755.9 1327.6 759.0 1330.5 762.5 C1333.4 766.0 1337.0 770.2 1340.2 774.1 C1343.4 778.0 1346.6 781.8 1349.8 785.7 C1353.0 789.6 1356.6 793.8 1359.5 797.3 C1362.4 800.8 1365.3 804.1 1367.2 807.0 C1369.1 809.9 1370.3 811.8 1371.1 814.7 C1371.9 817.6 1371.8 821.7 1372.1 824.4 C1372.3 827.1 1372.1 828.8 1372.6 831.0 C1373.1 833.2 1373.8 835.3 1375.0 837.7 C1376.2 840.1 1378.8 843.1 1379.8 845.5 C1380.8 847.9 1381.6 849.6 1381.1 852.2 C1380.6 854.8 1378.9 857.8 1376.9 860.9 C1374.9 864.0 1371.5 867.4 1369.2 870.6 C1367.0 873.8 1366.0 877.2 1363.4 880.2 C1360.8 883.2 1357.9 886.0 1353.7 888.9 C1349.5 891.8 1343.0 894.5 1338.2 897.6 C1333.4 900.7 1329.5 904.1 1324.7 907.3 C1319.9 910.5 1314.8 913.9 1309.3 917.0 C1303.8 920.1 1298.4 922.8 1291.9 925.7 C1285.5 928.6 1277.7 931.6 1270.6 934.3 C1263.5 937.0 1256.7 939.5 1249.3 942.1 C1241.9 944.7 1233.9 947.2 1226.2 949.8 C1218.5 952.4 1210.7 954.9 1203.0 957.5 C1195.3 960.1 1188.3 962.5 1179.8 965.3 C1171.3 968.0 1157.4 972.2 1151.8 974.0 C1146.2 975.8 1147.0 975.5 1146.0 975.8" fill="none" stroke="#d4711e" stroke-width="5.0" stroke-linejoin="round"/>
<path d="M1149.0 635.6 C1149.6 636.2 1149.8 636.4 1152.7 639.3 C1155.6 642.2 1161.8 648.9 1166.3 652.9 C1170.8 656.9 1175.0 660.3 1179.8 663.5 C1184.6 666.7 1189.7 669.5 1195.2 672.2 C1200.7 674.9 1206.1 677.3 1212.6 679.9 C1219.0 682.5 1226.5 684.9 1233.9 687.6 C1241.3 690.3 1249.4 693.4 1257.1 696.3 C1264.8 699.2 1272.6 702.2 1280.3 705.0 C1288.0 707.7 1295.5 710.4 1303.5 712.8 C1311.5 715.2 1320.2 717.2 1328.6 719.5 C1337.0 721.7 1346.3 724.0 1353.7 726.3 C1361.1 728.5 1367.2 730.4 1373.0 733.0 C1378.8 735.6 1383.7 738.5 1388.5 741.7 C1393.3 744.9 1397.5 749.0 1402.0 752.4 C1406.5 755.8 1410.7 758.8 1415.5 762.0 C1420.3 765.2 1426.5 768.5 1431.0 771.7 C1435.5 774.9 1439.4 778.2 1442.6 781.4 C1445.8 784.6 1448.0 787.5 1450.3 791.0 C1452.5 794.5 1454.6 799.0 1456.1 802.6 C1457.5 806.1 1458.5 809.1 1459.0 812.3 C1459.5 815.5 1459.5 819.0 1459.0 821.9 C1458.5 824.8 1457.5 826.4 1456.1 829.6 C1454.6 832.8 1452.5 836.9 1450.3 841.1 C1448.0 845.3 1444.8 850.4 1442.6 854.6 C1440.3 858.8 1439.1 862.3 1436.8 866.2 C1434.5 870.1 1432.5 874.1 1429.0 877.8 C1425.5 881.5 1420.0 884.5 1415.5 888.4 C1411.0 892.3 1406.2 897.3 1402.0 901.0 C1397.8 904.7 1394.6 907.6 1390.4 910.7 C1386.2 913.8 1381.1 916.5 1376.9 919.4 C1372.7 922.3 1369.2 925.1 1365.3 928.0 C1361.4 930.9 1358.2 934.1 1353.7 936.7 C1349.2 939.3 1344.0 941.4 1338.2 943.5 C1332.4 945.6 1325.3 947.4 1318.9 949.3 C1312.5 951.2 1306.0 953.0 1299.6 955.1 C1293.2 957.2 1286.8 959.5 1280.3 961.9 C1273.8 964.3 1267.4 967.0 1260.9 969.6 C1254.5 972.2 1248.0 974.7 1241.6 977.3 C1235.2 979.9 1228.7 982.4 1222.3 985.1 C1215.9 987.8 1208.5 990.6 1203.0 993.7 C1197.5 996.7 1194.2 1000.2 1189.4 1003.4 C1184.6 1006.6 1179.5 1010.0 1174.0 1013.1 C1168.5 1016.2 1160.8 1019.7 1156.6 1021.8 C1152.4 1023.9 1150.3 1025.0 1149.0 1025.6" fill="none" stroke="#000" stroke-width="7.3" stroke-dasharray="7.30 12.04" stroke-dashoffset="0.0"/>
<path d="M1146.0 710.3 C1147.0 710.5 1147.1 710.6 1151.8 711.8 C1156.5 713.0 1166.8 715.5 1174.0 717.6 C1181.2 719.7 1188.1 722.0 1195.2 724.4 C1202.3 726.8 1209.7 729.5 1216.5 732.1 C1223.3 734.7 1229.7 737.2 1235.8 739.8 C1241.9 742.4 1247.7 744.8 1253.2 747.5 C1258.7 750.2 1263.9 753.3 1268.7 756.2 C1273.5 759.1 1278.3 762.0 1282.2 764.9 C1286.1 767.8 1289.7 770.8 1291.9 773.6 C1294.1 776.3 1295.0 778.8 1295.3 781.4 C1295.6 784.0 1294.2 786.5 1293.8 789.1 C1293.4 791.7 1292.1 794.2 1292.8 796.8 C1293.5 799.4 1296.0 801.6 1297.7 804.5 C1299.4 807.4 1302.3 811.3 1303.1 814.2 C1303.9 817.1 1303.4 819.3 1302.5 821.9 C1301.6 824.5 1298.8 827.4 1297.7 829.6 C1296.6 831.8 1296.7 832.7 1295.7 835.3 C1294.7 837.9 1293.8 841.8 1291.9 845.0 C1290.0 848.2 1287.0 851.4 1284.1 854.6 C1281.2 857.8 1276.9 861.1 1274.5 864.3 C1272.1 867.5 1271.2 870.7 1269.6 873.9 C1268.0 877.1 1267.2 880.4 1264.8 883.6 C1262.4 886.8 1258.6 890.1 1255.1 893.3 C1251.6 896.5 1247.1 899.7 1243.6 902.9 C1240.1 906.1 1237.5 909.4 1233.9 912.6 C1230.4 915.8 1226.8 919.2 1222.3 922.3 C1217.8 925.3 1212.6 928.0 1206.8 930.9 C1201.0 933.8 1193.9 936.8 1187.5 939.6 C1181.1 942.3 1174.2 944.8 1168.2 947.4 C1162.2 950.0 1155.5 953.4 1151.8 955.1 C1148.1 956.8 1147.0 957.3 1146.0 957.8" fill="none" stroke="#000" stroke-width="7.3" stroke-dasharray="7.30 12.04" stroke-dashoffset="0.0"/>
<path d="M1146.0 685.8 C1147.0 686.1 1146.2 685.8 1151.8 687.6 C1157.4 689.3 1171.3 693.5 1179.8 696.3 C1188.3 699.0 1195.3 701.5 1203.0 704.1 C1210.7 706.7 1218.5 709.2 1226.2 711.8 C1233.9 714.4 1241.9 716.9 1249.3 719.5 C1256.7 722.1 1263.5 724.6 1270.6 727.3 C1277.7 730.0 1285.5 733.0 1291.9 735.9 C1298.4 738.8 1303.8 741.5 1309.3 744.6 C1314.8 747.7 1319.9 751.1 1324.7 754.3 C1329.5 757.5 1333.4 760.9 1338.2 764.0 C1343.0 767.1 1349.5 769.8 1353.7 772.7 C1357.9 775.6 1360.8 778.3 1363.4 781.4 C1366.0 784.4 1367.0 787.8 1369.2 791.0 C1371.5 794.2 1374.9 797.6 1376.9 800.7 C1378.9 803.8 1380.6 806.8 1381.1 809.4 C1381.6 812.0 1380.8 813.7 1379.8 816.1 C1378.8 818.5 1376.2 821.5 1375.0 823.9 C1373.8 826.3 1373.1 828.4 1372.6 830.6 C1372.1 832.8 1372.3 834.5 1372.1 837.2 C1371.8 839.9 1371.9 844.0 1371.1 846.9 C1370.3 849.8 1369.1 851.7 1367.2 854.6 C1365.3 857.5 1362.4 860.8 1359.5 864.3 C1356.6 867.8 1353.0 872.0 1349.8 875.9 C1346.6 879.8 1343.4 883.6 1340.2 887.5 C1337.0 891.4 1333.4 895.6 1330.5 899.1 C1327.6 902.6 1325.7 905.6 1322.8 908.7 C1319.9 911.7 1317.0 914.5 1313.1 917.4 C1309.2 920.3 1304.4 923.4 1299.6 926.1 C1294.8 928.8 1289.2 931.2 1284.1 933.8 C1278.9 936.4 1274.2 939.2 1268.7 941.6 C1263.2 944.0 1257.4 946.2 1251.3 948.3 C1245.2 950.4 1238.5 952.2 1232.0 954.1 C1225.5 956.0 1219.0 957.8 1212.6 959.9 C1206.1 962.0 1199.7 964.4 1193.3 966.7 C1186.9 969.0 1180.9 970.8 1174.0 973.5 C1167.1 976.2 1156.5 981.1 1151.8 983.1 C1147.1 985.1 1147.0 985.2 1146.0 985.6" fill="none" stroke="#d4711e" stroke-width="7.3" stroke-dasharray="7.30 12.04" stroke-dashoffset="0.0"/>
</g>
<path d="M1149.90 637.80v16.67M1227.14 637.80v16.67M1304.38 637.80v16.67M1381.62 637.80v16.67M1458.86 637.80v16.67M1536.10 637.80v16.67" stroke="#000" stroke-width="4.17" fill="none"/>
<path d="M1149.90 1023.80v-16.67M1227.14 1023.80v-16.67M1304.38 1023.80v-16.67M1381.62 1023.80v-16.67M1458.86 1023.80v-16.67M1536.10 1023.80v-16.67" stroke="#000" stroke-width="4.17" fill="none"/>
<path d="M1149.90 637.80h16.67M1149.90 702.13h16.67M1149.90 766.47h16.67M1149.90 830.80h16.67M1149.90 895.13h16.67M1149.90 959.47h16.67M1149.90 1023.80h16.67" stroke="#000" stroke-width="4.17" fill="none"/>
<path d="M1536.10 646.00h-16.67M1536.10 692.20h-16.67M1536.10 738.40h-16.67M1536.10 784.60h-16.67M1536.10 830.80h-16.67M1536.10 877.00h-16.67M1536.10 923.20h-16.67M1536.10 969.40h-16.67M1536.10 1015.60h-16.67" stroke="#000" stroke-width="4.17" fill="none"/>
<rect x="1149.90" y="637.80" width="386.20" height="386.00" fill="none" stroke="#000" stroke-width="3.70" stroke-linejoin="miter"/>
<text x="1149.9" y="1063.5" font-size="29.17" text-anchor="middle" >0.4</text>
<text x="1227.1" y="1063.5" font-size="29.17" text-anchor="middle" >0.6</text>
<text x="1304.4" y="1063.5" font-size="29.17" text-anchor="middle" >0.8</text>
<text x="1381.6" y="1063.5" font-size="29.17" text-anchor="middle" >1.0</text>
<text x="1458.9" y="1063.5" font-size="29.17" text-anchor="middle" >1.2</text>
<text x="1536.1" y="1063.5" font-size="29.17" text-anchor="middle" >1.4</text>
<text x="1133.2" y="648.4" font-size="29.17" text-anchor="end" >0.3</text>
<text x="1133.2" y="712.7" font-size="29.17" text-anchor="end" >0.2</text>
<text x="1133.2" y="777.1" font-size="29.17" text-anchor="end" >0.1</text>
<text x="1133.2" y="841.4" font-size="29.17" text-anchor="end" >0.0</text>
<text x="1133.2" y="905.7" font-size="29.17" text-anchor="end" >−0.1</text>
<text x="1133.2" y="970.1" font-size="29.17" text-anchor="end" >−0.2</text>
<text x="1133.2" y="1034.4" font-size="29.17" text-anchor="end" >−0.3</text>
<text x="1553.0" y="656.6" font-size="29.17" text-anchor="start" >40</text>
<text x="1553.0" y="702.8" font-size="29.17" text-anchor="start" >30</text>
<text x="1553.0" y="749.0" font-size="29.17" text-anchor="start" >20</text>
<text x="1553.0" y="795.2" font-size="29.17" text-anchor="start" >10</text>
<text x="1553.0" y="841.4" font-size="29.17" text-anchor="start" >0</text>
<text x="1553.0" y="887.6" font-size="29.17" text-anchor="start" >-10</text>
<text x="1553.0" y="933.8" font-size="29.17" text-anchor="start" >-20</text>
<text x="1553.0" y="980.0" font-size="29.17" text-anchor="start" >-30</text>
<text x="1553.0" y="1026.2" font-size="29.17" text-anchor="start" >-40</text>
<text x="1343.0" y="1113.7" font-size="33.75" text-anchor="middle" >Normalized intensity</text>
<text x="1037.8" y="833.2" font-size="33.75" text-anchor="middle" transform="rotate(-90 1037.8 833.2)" >Δ Dec (")</text>
<text x="1643.0" y="831.5" font-size="33.75" text-anchor="middle" transform="rotate(-90 1643.0 831.5)" >Δ Dec (au)</text>
<text x="1516.5" y="687.0" font-size="33.75" text-anchor="end" >North</text>
<text x="1516.5" y="995.0" font-size="33.75" text-anchor="end" >South</text>
</svg></body></html>
